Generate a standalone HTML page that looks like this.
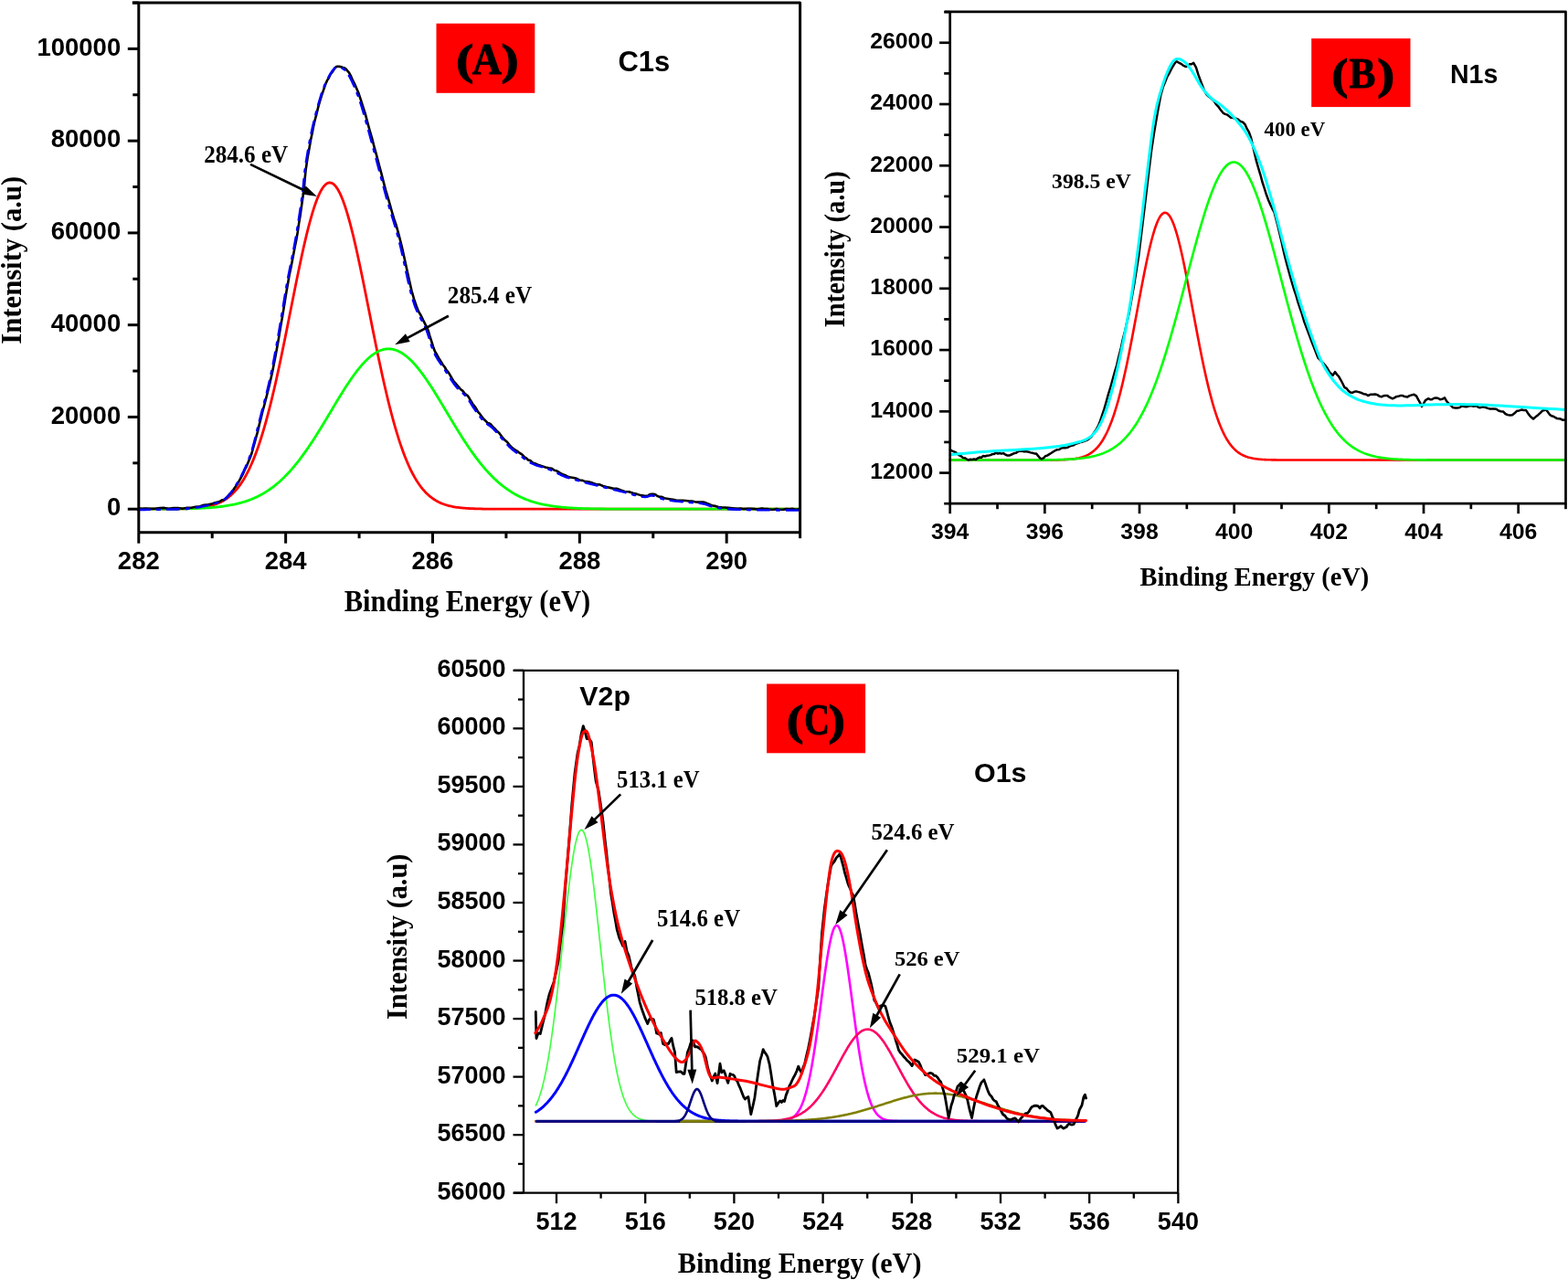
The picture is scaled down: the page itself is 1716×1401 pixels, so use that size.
<!DOCTYPE html>
<html><head><meta charset="utf-8"><title>XPS spectra</title>
<style>
html,body{margin:0;padding:0;background:#fff;}
body{width:1716px;height:1401px;overflow:hidden;}
svg{display:block;}
.sa{font-family:"Liberation Sans",Arial,sans-serif;font-weight:bold;}
</style></head>
<body>
<svg width="1716" height="1401" viewBox="0 0 1716 1401">
<rect width="1716" height="1401" fill="#fff"/>
<polyline points="151.80,557.20 153.25,557.20 154.70,557.20 156.15,557.20 157.60,557.19 159.05,557.19 160.50,557.19 161.95,557.19 163.40,557.19 164.85,557.19 166.31,557.19 167.76,557.18 169.21,557.18 170.66,557.18 172.11,557.18 173.56,557.17 175.01,557.17 176.46,557.16 177.91,557.16 179.36,557.15 180.81,557.14 182.26,557.14 183.71,557.13 185.16,557.11 186.61,557.10 188.06,557.09 189.51,557.07 190.96,557.05 192.41,557.03 193.86,557.01 195.32,556.98 196.77,556.95 198.22,556.92 199.67,556.88 201.12,556.84 202.57,556.79 204.02,556.74 205.47,556.68 206.92,556.61 208.37,556.53 209.82,556.45 211.27,556.35 212.72,556.25 214.17,556.13 215.62,556.00 217.07,555.86 218.52,555.70 219.97,555.52 221.42,555.33 222.87,555.12 224.33,554.88 225.78,554.62 227.23,554.33 228.68,554.02 230.13,553.67 231.58,553.29 233.03,552.88 234.48,552.43 235.93,551.93 237.38,551.39 238.83,550.81 240.28,550.17 241.73,549.48 243.18,548.73 244.63,547.91 246.08,547.03 247.53,546.08 248.98,545.06 250.43,543.95 251.88,542.76 253.34,541.49 254.79,540.11 256.24,538.64 257.69,537.07 259.14,535.39 260.59,533.59 262.04,531.67 263.49,529.64 264.94,527.47 266.39,525.16 267.84,522.72 269.29,520.14 270.74,517.40 272.19,514.51 273.64,511.47 275.09,508.26 276.54,504.89 277.99,501.35 279.44,497.63 280.89,493.74 282.35,489.68 283.80,485.43 285.25,481.01 286.70,476.40 288.15,471.62 289.60,466.65 291.05,461.50 292.50,456.18 293.95,450.68 295.40,445.01 296.85,439.17 298.30,433.17 299.75,427.01 301.20,420.70 302.65,414.25 304.10,407.66 305.55,400.94 307.00,394.11 308.45,387.18 309.90,380.15 311.36,373.04 312.81,365.86 314.26,358.63 315.71,351.35 317.16,344.06 318.61,336.75 320.06,329.46 321.51,322.19 322.96,314.96 324.41,307.80 325.86,300.71 327.31,293.72 328.76,286.85 330.21,280.12 331.66,273.54 333.11,267.13 334.56,260.92 336.01,254.92 337.46,249.14 338.91,243.61 340.37,238.35 341.82,233.36 343.27,228.67 344.72,224.29 346.17,220.24 347.62,216.52 349.07,213.15 350.52,210.15 351.97,207.51 353.42,205.26 354.87,203.39 356.32,201.92 357.77,200.85 359.22,200.18 360.67,199.91 362.12,200.05 363.57,200.59 365.02,201.54 366.47,202.89 367.92,204.64 369.38,206.77 370.83,209.29 372.28,212.18 373.73,215.44 375.18,219.04 376.63,223.00 378.08,227.28 379.53,231.87 380.98,236.77 382.43,241.95 383.88,247.39 385.33,253.09 386.78,259.03 388.23,265.18 389.68,271.53 391.13,278.06 392.58,284.74 394.03,291.57 395.48,298.53 396.93,305.58 398.39,312.73 399.84,319.93 401.29,327.19 402.74,334.48 404.19,341.79 405.64,349.09 407.09,356.37 408.54,363.61 409.99,370.81 411.44,377.94 412.89,385.00 414.34,391.97 415.79,398.83 417.24,405.58 418.69,412.21 420.14,418.71 421.59,425.06 423.04,431.27 424.49,437.32 425.94,443.21 427.40,448.93 428.85,454.49 430.30,459.87 431.75,465.07 433.20,470.09 434.65,474.93 436.10,479.60 437.55,484.08 439.00,488.38 440.45,492.50 441.90,496.44 443.35,500.21 444.80,503.80 446.25,507.23 447.70,510.49 449.15,513.58 450.60,516.52 452.05,519.30 453.50,521.93 454.95,524.42 456.41,526.77 457.86,528.97 459.31,531.05 460.76,533.01 462.21,534.84 463.66,536.56 465.11,538.17 466.56,539.67 468.01,541.07 469.46,542.38 470.91,543.59 472.36,544.72 473.81,545.77 475.26,546.75 476.71,547.65 478.16,548.48 479.61,549.25 481.06,549.96 482.51,550.61 483.96,551.22 485.42,551.77 486.87,552.28 488.32,552.74 489.77,553.17 491.22,553.56 492.67,553.91 494.12,554.24 495.57,554.53 497.02,554.80 498.47,555.04 499.92,555.27 501.37,555.47 502.82,555.65 504.27,555.81 505.72,555.96 507.17,556.09 508.62,556.21 510.07,556.32 511.52,556.42 512.97,556.51 514.43,556.58 515.88,556.65 517.33,556.72 518.78,556.77 520.23,556.82 521.68,556.87 523.13,556.91 524.58,556.94 526.03,556.97 527.48,557.00 528.93,557.03 530.38,557.05 531.83,557.07 533.28,557.08 534.73,557.10 536.18,557.11 537.63,557.12 539.08,557.13 540.53,557.14 541.98,557.15 543.44,557.16 544.89,557.16 546.34,557.17 547.79,557.17 549.24,557.18 550.69,557.18 552.14,557.18 553.59,557.18 555.04,557.19 556.49,557.19 557.94,557.19 559.39,557.19 560.84,557.19 562.29,557.19 563.74,557.19 565.19,557.20 566.64,557.20 568.09,557.20 569.54,557.20 570.99,557.20 572.45,557.20 573.90,557.20 575.35,557.20 576.80,557.20 578.25,557.20 579.70,557.20 581.15,557.20 582.60,557.20 584.05,557.20 585.50,557.20 586.95,557.20 588.40,557.20 589.85,557.20 591.30,557.20 592.75,557.20 594.20,557.20 595.65,557.20 597.10,557.20 598.55,557.20 600.00,557.20 601.46,557.20 602.91,557.20 604.36,557.20 605.81,557.20 607.26,557.20 608.71,557.20 610.16,557.20 611.61,557.20 613.06,557.20 614.51,557.20 615.96,557.20 617.41,557.20 618.86,557.20 620.31,557.20 621.76,557.20 623.21,557.20 624.66,557.20 626.11,557.20 627.56,557.20 629.01,557.20 630.47,557.20 631.92,557.20 633.37,557.20 634.82,557.20 636.27,557.20 637.72,557.20 639.17,557.20 640.62,557.20 642.07,557.20 643.52,557.20 644.97,557.20 646.42,557.20 647.87,557.20 649.32,557.20 650.77,557.20 652.22,557.20 653.67,557.20 655.12,557.20 656.57,557.20 658.02,557.20 659.48,557.20 660.93,557.20 662.38,557.20 663.83,557.20 665.28,557.20 666.73,557.20 668.18,557.20 669.63,557.20 671.08,557.20 672.53,557.20 673.98,557.20 675.43,557.20 676.88,557.20 678.33,557.20 679.78,557.20 681.23,557.20 682.68,557.20 684.13,557.20 685.58,557.20 687.03,557.20 688.49,557.20 689.94,557.20 691.39,557.20 692.84,557.20 694.29,557.20 695.74,557.20 697.19,557.20 698.64,557.20 700.09,557.20 701.54,557.20 702.99,557.20 704.44,557.20 705.89,557.20 707.34,557.20 708.79,557.20 710.24,557.20 711.69,557.20 713.14,557.20 714.59,557.20 716.04,557.20 717.50,557.20 718.95,557.20 720.40,557.20 721.85,557.20 723.30,557.20 724.75,557.20 726.20,557.20 727.65,557.20 729.10,557.20 730.55,557.20 732.00,557.20 733.45,557.20 734.90,557.20 736.35,557.20 737.80,557.20 739.25,557.20 740.70,557.20 742.15,557.20 743.60,557.20 745.05,557.20 746.51,557.20 747.96,557.20 749.41,557.20 750.86,557.20 752.31,557.20 753.76,557.20 755.21,557.20 756.66,557.20 758.11,557.20 759.56,557.20 761.01,557.20 762.46,557.20 763.91,557.20 765.36,557.20 766.81,557.20 768.26,557.20 769.71,557.20 771.16,557.20 772.61,557.20 774.06,557.20 775.52,557.20 776.97,557.20 778.42,557.20 779.87,557.20 781.32,557.20 782.77,557.20 784.22,557.20 785.67,557.20 787.12,557.20 788.57,557.20 790.02,557.20 791.47,557.20 792.92,557.20 794.37,557.20 795.82,557.20 797.27,557.20 798.72,557.20 800.17,557.20 801.62,557.20 803.07,557.20 804.53,557.20 805.98,557.20 807.43,557.20 808.88,557.20 810.33,557.20 811.78,557.20 813.23,557.20 814.68,557.20 816.13,557.20 817.58,557.20 819.03,557.20 820.48,557.20 821.93,557.20 823.38,557.20 824.83,557.20 826.28,557.20 827.73,557.20 829.18,557.20 830.63,557.20 832.08,557.20 833.54,557.20 834.99,557.20 836.44,557.20 837.89,557.20 839.34,557.20 840.79,557.20 842.24,557.20 843.69,557.20 845.14,557.20 846.59,557.20 848.04,557.20 849.49,557.20 850.94,557.20 852.39,557.20 853.84,557.20 855.29,557.20 856.74,557.20 858.19,557.20 859.64,557.20 861.09,557.20 862.55,557.20 864.00,557.20 865.45,557.20 866.90,557.20 868.35,557.20 869.80,557.20 871.25,557.20 872.70,557.20 874.15,557.20 875.60,557.20" fill="none" stroke="#FF0000" stroke-width="2.8" stroke-linejoin="round" stroke-linecap="round"/>
<polyline points="151.80,557.18 153.25,557.18 154.70,557.18 156.15,557.18 157.60,557.18 159.05,557.17 160.50,557.17 161.95,557.17 163.40,557.16 164.85,557.16 166.31,557.16 167.76,557.15 169.21,557.15 170.66,557.14 172.11,557.14 173.56,557.13 175.01,557.13 176.46,557.12 177.91,557.11 179.36,557.10 180.81,557.09 182.26,557.08 183.71,557.07 185.16,557.06 186.61,557.05 188.06,557.04 189.51,557.02 190.96,557.00 192.41,556.99 193.86,556.97 195.32,556.95 196.77,556.93 198.22,556.90 199.67,556.88 201.12,556.85 202.57,556.82 204.02,556.79 205.47,556.76 206.92,556.72 208.37,556.68 209.82,556.64 211.27,556.60 212.72,556.55 214.17,556.50 215.62,556.44 217.07,556.38 218.52,556.32 219.97,556.25 221.42,556.18 222.87,556.10 224.33,556.02 225.78,555.93 227.23,555.84 228.68,555.74 230.13,555.63 231.58,555.52 233.03,555.40 234.48,555.27 235.93,555.13 237.38,554.99 238.83,554.83 240.28,554.67 241.73,554.50 243.18,554.31 244.63,554.12 246.08,553.91 247.53,553.70 248.98,553.47 250.43,553.22 251.88,552.97 253.34,552.70 254.79,552.41 256.24,552.11 257.69,551.79 259.14,551.46 260.59,551.10 262.04,550.73 263.49,550.35 264.94,549.94 266.39,549.51 267.84,549.06 269.29,548.59 270.74,548.09 272.19,547.57 273.64,547.03 275.09,546.47 276.54,545.87 277.99,545.26 279.44,544.61 280.89,543.94 282.35,543.23 283.80,542.50 285.25,541.74 286.70,540.94 288.15,540.12 289.60,539.26 291.05,538.37 292.50,537.44 293.95,536.48 295.40,535.49 296.85,534.46 298.30,533.39 299.75,532.28 301.20,531.14 302.65,529.96 304.10,528.74 305.55,527.48 307.00,526.18 308.45,524.84 309.90,523.47 311.36,522.05 312.81,520.59 314.26,519.09 315.71,517.55 317.16,515.97 318.61,514.34 320.06,512.68 321.51,510.98 322.96,509.23 324.41,507.45 325.86,505.63 327.31,503.77 328.76,501.87 330.21,499.93 331.66,497.95 333.11,495.94 334.56,493.90 336.01,491.82 337.46,489.70 338.91,487.56 340.37,485.38 341.82,483.18 343.27,480.94 344.72,478.68 346.17,476.40 347.62,474.09 349.07,471.76 350.52,469.41 351.97,467.05 353.42,464.67 354.87,462.27 356.32,459.87 357.77,457.45 359.22,455.03 360.67,452.60 362.12,450.17 363.57,447.75 365.02,445.32 366.47,442.90 367.92,440.50 369.38,438.10 370.83,435.71 372.28,433.35 373.73,431.00 375.18,428.67 376.63,426.37 378.08,424.10 379.53,421.86 380.98,419.66 382.43,417.49 383.88,415.36 385.33,413.27 386.78,411.23 388.23,409.24 389.68,407.30 391.13,405.41 392.58,403.57 394.03,401.80 395.48,400.09 396.93,398.44 398.39,396.86 399.84,395.35 401.29,393.91 402.74,392.54 404.19,391.24 405.64,390.03 407.09,388.89 408.54,387.83 409.99,386.86 411.44,385.96 412.89,385.16 414.34,384.44 415.79,383.80 417.24,383.26 418.69,382.81 420.14,382.44 421.59,382.17 423.04,381.98 424.49,381.89 425.94,381.89 427.40,381.98 428.85,382.16 430.30,382.43 431.75,382.80 433.20,383.25 434.65,383.79 436.10,384.42 437.55,385.14 439.00,385.95 440.45,386.83 441.90,387.81 443.35,388.86 444.80,390.00 446.25,391.21 447.70,392.51 449.15,393.87 450.60,395.31 452.05,396.83 453.50,398.41 454.95,400.05 456.41,401.76 457.86,403.53 459.31,405.37 460.76,407.25 462.21,409.19 463.66,411.19 465.11,413.23 466.56,415.31 468.01,417.44 469.46,419.61 470.91,421.81 472.36,424.05 473.81,426.32 475.26,428.62 476.71,430.95 478.16,433.29 479.61,435.66 481.06,438.04 482.51,440.44 483.96,442.85 485.42,445.27 486.87,447.69 488.32,450.12 489.77,452.55 491.22,454.97 492.67,457.40 494.12,459.81 495.57,462.22 497.02,464.61 498.47,467.00 499.92,469.36 501.37,471.71 502.82,474.04 504.27,476.35 505.72,478.63 507.17,480.89 508.62,483.13 510.07,485.33 511.52,487.51 512.97,489.66 514.43,491.77 515.88,493.85 517.33,495.90 518.78,497.91 520.23,499.89 521.68,501.82 523.13,503.72 524.58,505.59 526.03,507.41 527.48,509.19 528.93,510.94 530.38,512.64 531.83,514.31 533.28,515.93 534.73,517.51 536.18,519.05 537.63,520.56 539.08,522.02 540.53,523.44 541.98,524.81 543.44,526.15 544.89,527.45 546.34,528.71 547.79,529.93 549.24,531.11 550.69,532.26 552.14,533.36 553.59,534.43 555.04,535.47 556.49,536.46 557.94,537.42 559.39,538.35 560.84,539.24 562.29,540.10 563.74,540.93 565.19,541.72 566.64,542.48 568.09,543.22 569.54,543.92 570.99,544.59 572.45,545.24 573.90,545.86 575.35,546.45 576.80,547.02 578.25,547.56 579.70,548.08 581.15,548.58 582.60,549.05 584.05,549.50 585.50,549.93 586.95,550.34 588.40,550.73 589.85,551.10 591.30,551.45 592.75,551.78 594.20,552.10 595.65,552.40 597.10,552.69 598.55,552.96 600.00,553.22 601.46,553.46 602.91,553.69 604.36,553.91 605.81,554.12 607.26,554.31 608.71,554.49 610.16,554.67 611.61,554.83 613.06,554.98 614.51,555.13 615.96,555.27 617.41,555.40 618.86,555.52 620.31,555.63 621.76,555.74 623.21,555.84 624.66,555.93 626.11,556.02 627.56,556.10 629.01,556.18 630.47,556.25 631.92,556.32 633.37,556.38 634.82,556.44 636.27,556.50 637.72,556.55 639.17,556.60 640.62,556.64 642.07,556.68 643.52,556.72 644.97,556.76 646.42,556.79 647.87,556.82 649.32,556.85 650.77,556.88 652.22,556.90 653.67,556.93 655.12,556.95 656.57,556.97 658.02,556.99 659.48,557.00 660.93,557.02 662.38,557.03 663.83,557.05 665.28,557.06 666.73,557.07 668.18,557.08 669.63,557.09 671.08,557.10 672.53,557.11 673.98,557.12 675.43,557.12 676.88,557.13 678.33,557.14 679.78,557.14 681.23,557.15 682.68,557.15 684.13,557.16 685.58,557.16 687.03,557.16 688.49,557.17 689.94,557.17 691.39,557.17 692.84,557.18 694.29,557.18 695.74,557.18 697.19,557.18 698.64,557.18 700.09,557.18 701.54,557.19 702.99,557.19 704.44,557.19 705.89,557.19 707.34,557.19 708.79,557.19 710.24,557.19 711.69,557.19 713.14,557.19 714.59,557.19 716.04,557.20 717.50,557.20 718.95,557.20 720.40,557.20 721.85,557.20 723.30,557.20 724.75,557.20 726.20,557.20 727.65,557.20 729.10,557.20 730.55,557.20 732.00,557.20 733.45,557.20 734.90,557.20 736.35,557.20 737.80,557.20 739.25,557.20 740.70,557.20 742.15,557.20 743.60,557.20 745.05,557.20 746.51,557.20 747.96,557.20 749.41,557.20 750.86,557.20 752.31,557.20 753.76,557.20 755.21,557.20 756.66,557.20 758.11,557.20 759.56,557.20 761.01,557.20 762.46,557.20 763.91,557.20 765.36,557.20 766.81,557.20 768.26,557.20 769.71,557.20 771.16,557.20 772.61,557.20 774.06,557.20 775.52,557.20 776.97,557.20 778.42,557.20 779.87,557.20 781.32,557.20 782.77,557.20 784.22,557.20 785.67,557.20 787.12,557.20 788.57,557.20 790.02,557.20 791.47,557.20 792.92,557.20 794.37,557.20 795.82,557.20 797.27,557.20 798.72,557.20 800.17,557.20 801.62,557.20 803.07,557.20 804.53,557.20 805.98,557.20 807.43,557.20 808.88,557.20 810.33,557.20 811.78,557.20 813.23,557.20 814.68,557.20 816.13,557.20 817.58,557.20 819.03,557.20 820.48,557.20 821.93,557.20 823.38,557.20 824.83,557.20 826.28,557.20 827.73,557.20 829.18,557.20 830.63,557.20 832.08,557.20 833.54,557.20 834.99,557.20 836.44,557.20 837.89,557.20 839.34,557.20 840.79,557.20 842.24,557.20 843.69,557.20 845.14,557.20 846.59,557.20 848.04,557.20 849.49,557.20 850.94,557.20 852.39,557.20 853.84,557.20 855.29,557.20 856.74,557.20 858.19,557.20 859.64,557.20 861.09,557.20 862.55,557.20 864.00,557.20 865.45,557.20 866.90,557.20 868.35,557.20 869.80,557.20 871.25,557.20 872.70,557.20 874.15,557.20 875.60,557.20" fill="none" stroke="#00FF00" stroke-width="2.8" stroke-linejoin="round" stroke-linecap="round"/>
<polyline points="152.00,556.49 155.03,556.83 159.21,556.60 164.16,556.84 169.53,556.82 174.93,556.08 180.00,555.92 184.86,556.82 189.83,556.06 194.83,555.94 199.81,556.69 204.69,555.79 209.40,555.80 214.06,554.76 218.74,554.19 223.32,552.73 227.69,552.36 231.72,551.64 235.30,550.23 238.31,549.62 240.81,548.79 242.98,547.28 244.99,547.12 247.00,545.54 249.20,543.26 251.57,540.40 253.99,538.39 256.41,534.53 258.80,531.14 261.15,527.45 263.40,523.26 265.58,519.41 267.70,514.52 269.77,510.55 271.79,505.43 273.73,501.07 275.60,495.75 277.36,489.26 278.99,483.47 280.56,477.47 282.12,472.03 283.71,464.85 285.40,458.35 287.21,451.00 289.10,444.03 291.04,436.46 292.96,428.83 294.83,421.43 296.60,413.70 298.25,406.35 299.81,398.30 301.32,390.71 302.80,382.58 304.28,374.50 305.80,365.61 307.34,356.06 308.89,347.54 310.44,338.11 312.00,328.47 313.55,318.72 315.10,309.96 316.67,300.89 318.27,293.48 319.87,285.22 321.44,277.03 322.96,268.92 324.40,261.92 325.79,253.88 327.14,244.39 328.45,236.84 329.68,228.16 330.80,220.06 331.80,213.05 332.59,207.29 333.17,201.80 333.64,195.60 334.12,191.18 334.71,185.18 335.50,180.16 336.49,173.31 337.59,167.28 338.79,160.49 340.09,152.91 341.50,146.50 343.00,138.77 344.64,131.47 346.43,124.82 348.32,116.87 350.27,110.06 352.21,103.81 354.10,98.33 355.99,92.79 357.94,88.16 359.88,85.18 361.77,81.07 363.56,78.92 365.20,76.48 366.63,74.13 367.87,73.17 369.01,72.72 370.13,72.74 371.30,72.83 372.60,73.07 374.00,73.43 375.42,74.19 376.90,74.31 378.46,75.32 380.11,77.40 381.90,79.39 383.83,82.82 385.89,87.65 388.06,91.75 390.30,97.06 392.59,102.31 394.90,109.30 397.26,116.82 399.70,124.34 402.18,133.86 404.69,143.05 407.21,151.65 409.70,161.45 412.20,170.45 414.72,180.20 417.25,189.40 419.76,199.33 422.21,208.58 424.60,216.43 426.87,224.35 429.05,232.24 431.18,239.44 433.31,245.57 435.50,253.38 437.80,262.11 440.24,271.92 442.78,283.44 445.38,295.43 448.00,307.35 450.58,318.52 453.10,327.36 455.61,334.73 458.15,341.15 460.67,345.24 463.09,350.32 465.36,354.79 467.40,358.77 469.11,363.32 470.53,368.49 471.79,372.12 473.03,376.21 474.39,380.53 476.00,384.74 477.91,387.77 480.00,391.62 482.22,395.08 484.47,399.01 486.69,401.77 488.80,405.43 490.79,407.70 492.73,410.94 494.64,414.25 496.52,417.34 498.40,419.47 500.30,421.67 502.24,423.76 504.22,426.21 506.20,427.60 508.13,430.09 509.98,431.90 511.70,433.02 513.24,435.15 514.61,437.83 515.91,439.71 517.19,442.03 518.53,443.63 520.00,445.56 521.62,448.06 523.34,451.10 525.11,452.94 526.92,455.45 528.72,457.79 530.50,459.80 532.18,461.38 533.77,463.19 535.36,463.32 537.03,464.26 538.89,466.80 541.00,468.66 543.49,471.43 546.30,473.97 549.29,478.09 552.31,481.59 555.19,484.01 557.80,487.39 560.09,489.69 562.18,491.30 564.14,492.69 566.05,493.85 567.98,495.32 570.00,496.67 572.02,498.05 573.95,500.24 575.90,501.41 577.97,503.53 580.27,504.06 582.90,506.48 586.00,507.55 589.53,509.08 593.29,510.25 597.07,511.43 600.67,512.21 603.90,512.72 606.67,514.79 609.11,515.31 611.38,516.67 613.62,518.28 615.98,519.25 618.60,520.20 621.51,521.85 624.59,522.43 627.79,523.04 631.04,523.84 634.30,525.46 637.50,525.87 640.60,527.09 643.65,527.38 646.69,527.99 649.80,529.18 653.01,530.33 656.40,530.41 659.97,532.03 663.68,533.10 667.51,533.88 671.42,534.84 675.39,534.83 679.40,536.55 683.64,537.93 688.18,538.19 692.78,539.71 697.21,540.87 701.23,542.12 704.60,542.61 707.15,542.81 709.03,542.91 710.51,541.51 711.83,541.07 713.28,540.83 715.10,540.85 717.23,541.23 719.46,543.04 721.79,543.78 724.28,543.80 726.94,545.19 729.80,545.68 732.96,546.22 736.41,546.74 740.04,547.51 743.73,547.81 747.35,547.89 750.80,548.03 754.08,548.49 757.30,548.47 760.46,549.19 763.56,549.61 766.61,549.51 769.60,549.60 772.39,550.34 774.96,551.36 777.47,552.50 780.10,553.58 783.02,553.90 786.40,555.06 789.95,555.36 793.48,555.56 797.30,555.85 801.73,556.30 807.09,556.81 810.39,556.59 813.70,557.03 818.15,556.85 822.60,556.69 826.31,557.08 830.02,557.32 833.74,556.62 836.75,557.07 839.77,557.09 842.79,557.66 845.81,557.76 849.70,557.10 853.60,557.75 857.50,557.65 860.83,557.03 864.16,557.29 867.50,556.90 871.00,557.75 874.50,557.40" fill="none" stroke="#000" stroke-width="2.6" stroke-linejoin="round" stroke-linecap="round"/>
<polyline points="150.90,557.90 153.93,557.88 158.11,557.85 163.06,557.82 168.43,557.77 173.83,557.70 178.90,557.60 183.76,557.51 188.73,557.44 193.73,557.36 198.71,557.20 203.59,556.93 208.30,556.50 212.96,555.89 217.64,555.13 222.22,554.25 226.59,553.30 230.62,552.30 234.20,551.30 237.21,550.43 239.71,549.69 241.88,548.91 243.89,547.91 245.90,546.53 248.10,544.60 250.47,542.07 252.89,539.06 255.31,535.66 257.70,531.98 260.05,528.09 262.30,524.10 264.48,520.01 266.60,515.75 268.67,511.29 270.69,506.60 272.63,501.64 274.50,496.40 276.26,490.85 277.89,485.01 279.46,478.91 281.02,472.57 282.61,466.03 284.30,459.30 286.11,452.34 288.00,445.12 289.94,437.69 291.86,430.11 293.73,422.43 295.50,414.70 297.15,406.96 298.71,399.18 300.22,391.29 301.70,383.26 303.18,375.01 304.70,366.50 306.24,357.56 307.79,348.21 309.34,338.65 310.90,329.09 312.45,319.74 314.00,310.80 315.57,302.33 317.17,294.18 318.77,286.23 320.34,278.39 321.86,270.55 323.30,262.60 324.69,254.40 326.04,245.99 327.35,237.57 328.58,229.37 329.70,221.58 330.70,214.40 331.49,208.06 332.07,202.45 332.54,197.24 333.02,192.14 333.61,186.83 334.40,181.00 335.39,174.62 336.49,167.92 337.69,161.01 338.99,154.00 340.40,147.00 341.90,140.10 343.54,133.08 345.33,125.80 347.22,118.53 349.17,111.52 351.11,105.02 353.00,99.30 354.89,94.30 356.84,89.81 358.78,85.84 360.67,82.39 362.46,79.47 364.10,77.10 365.53,75.38 366.77,74.32 367.91,73.79 369.03,73.67 370.20,73.82 371.50,74.10 372.90,74.39 374.32,74.76 375.80,75.41 377.36,76.50 379.01,78.24 380.80,80.80 382.73,84.16 384.79,88.17 386.96,92.83 389.20,98.10 391.49,104.00 393.80,110.50 396.16,117.82 398.60,126.01 401.08,134.82 403.59,144.00 406.11,153.27 408.60,162.40 411.10,171.59 413.62,181.08 416.15,190.68 418.66,200.19 421.11,209.39 423.50,218.10 425.77,225.98 427.95,233.13 430.07,239.98 432.21,246.97 434.40,254.53 436.70,263.10 439.14,273.24 441.68,284.71 444.28,296.75 446.90,308.60 449.48,319.51 452.00,328.70 454.51,335.98 457.05,341.92 459.57,346.91 461.99,351.34 464.26,355.60 466.30,360.10 468.01,364.75 469.43,369.22 470.69,373.53 471.93,377.69 473.29,381.71 474.90,385.60 476.81,389.35 478.90,392.93 481.12,396.38 483.37,399.71 485.59,402.94 487.70,406.10 489.69,409.20 491.63,412.23 493.54,415.17 495.42,417.98 497.30,420.63 499.20,423.10 501.14,425.31 503.12,427.27 505.10,429.08 507.03,430.82 508.88,432.60 510.60,434.50 512.14,436.52 513.51,438.56 514.81,440.64 516.09,442.76 517.43,444.91 518.90,447.10 520.52,449.41 522.24,451.84 524.01,454.32 525.82,456.73 527.62,458.99 529.40,461.00 531.08,462.58 532.67,463.79 534.26,464.84 535.93,465.96 537.79,467.37 539.90,469.30 542.39,471.94 545.20,475.15 548.19,478.65 551.21,482.17 554.09,485.45 556.70,488.20 558.99,490.38 561.08,492.20 563.04,493.77 564.95,495.20 566.88,496.61 568.90,498.10 570.92,499.67 572.85,501.23 574.80,502.76 576.87,504.26 579.17,505.71 581.80,507.10 584.90,508.42 588.43,509.67 592.19,510.88 595.97,512.05 599.57,513.22 602.80,514.40 605.57,515.60 608.01,516.81 610.28,518.01 612.52,519.18 614.88,520.32 617.50,521.40 620.41,522.42 623.49,523.40 626.69,524.33 629.94,525.24 633.20,526.12 636.40,527.00 639.50,527.85 642.55,528.66 645.59,529.45 648.70,530.24 651.91,531.05 655.30,531.90 658.87,532.78 662.58,533.69 666.41,534.61 670.32,535.56 674.29,536.52 678.30,537.50 682.54,538.60 687.08,539.83 691.68,541.09 696.11,542.24 700.13,543.19 703.50,543.80 706.05,543.94 707.93,543.68 709.41,543.21 710.73,542.71 712.18,542.38 714.00,542.40 716.13,542.84 718.36,543.57 720.69,544.46 723.18,545.40 725.84,546.29 728.70,547.00 731.86,547.55 735.31,548.02 738.94,548.43 742.63,548.80 746.25,549.15 749.70,549.50 752.98,549.80 756.20,550.02 759.36,550.22 762.46,550.45 765.51,550.76 768.50,551.20 771.29,551.83 773.86,552.61 776.37,553.48 779.00,554.34 781.92,555.14 785.30,555.80 788.85,556.31 792.38,556.74 796.20,557.10 800.63,557.40 805.99,557.67 812.60,557.90 821.50,558.09 832.64,558.23 844.71,558.33 856.40,558.40 866.40,558.45 873.40,558.50" fill="none" stroke="#0000FF" stroke-width="2.6" stroke-linejoin="round" stroke-linecap="round" stroke-dasharray="13 8 3 8" stroke-linecap="butt"/>
<path d="M151.8,582.7 V3.1 M144.8,3.1 H875.6 V582.7 H151.8" fill="none" stroke="#000" stroke-width="3" stroke-linejoin="round"/>
<line x1="139.80" y1="557.20" x2="151.80" y2="557.20" stroke="#000" stroke-width="3" stroke-linecap="butt"/>
<line x1="145.30" y1="506.82" x2="151.80" y2="506.82" stroke="#000" stroke-width="3" stroke-linecap="butt"/>
<line x1="139.80" y1="456.44" x2="151.80" y2="456.44" stroke="#000" stroke-width="3" stroke-linecap="butt"/>
<line x1="145.30" y1="406.06" x2="151.80" y2="406.06" stroke="#000" stroke-width="3" stroke-linecap="butt"/>
<line x1="139.80" y1="355.68" x2="151.80" y2="355.68" stroke="#000" stroke-width="3" stroke-linecap="butt"/>
<line x1="145.30" y1="305.30" x2="151.80" y2="305.30" stroke="#000" stroke-width="3" stroke-linecap="butt"/>
<line x1="139.80" y1="254.92" x2="151.80" y2="254.92" stroke="#000" stroke-width="3" stroke-linecap="butt"/>
<line x1="145.30" y1="204.54" x2="151.80" y2="204.54" stroke="#000" stroke-width="3" stroke-linecap="butt"/>
<line x1="139.80" y1="154.16" x2="151.80" y2="154.16" stroke="#000" stroke-width="3" stroke-linecap="butt"/>
<line x1="145.30" y1="103.78" x2="151.80" y2="103.78" stroke="#000" stroke-width="3" stroke-linecap="butt"/>
<line x1="139.80" y1="53.40" x2="151.80" y2="53.40" stroke="#000" stroke-width="3" stroke-linecap="butt"/>
<line x1="145.30" y1="3.02" x2="151.80" y2="3.02" stroke="#000" stroke-width="3" stroke-linecap="butt"/>
<line x1="151.80" y1="582.70" x2="151.80" y2="594.70" stroke="#000" stroke-width="3" stroke-linecap="butt"/>
<line x1="232.22" y1="582.70" x2="232.22" y2="589.20" stroke="#000" stroke-width="3" stroke-linecap="butt"/>
<line x1="312.64" y1="582.70" x2="312.64" y2="594.70" stroke="#000" stroke-width="3" stroke-linecap="butt"/>
<line x1="393.07" y1="582.70" x2="393.07" y2="589.20" stroke="#000" stroke-width="3" stroke-linecap="butt"/>
<line x1="473.49" y1="582.70" x2="473.49" y2="594.70" stroke="#000" stroke-width="3" stroke-linecap="butt"/>
<line x1="553.91" y1="582.70" x2="553.91" y2="589.20" stroke="#000" stroke-width="3" stroke-linecap="butt"/>
<line x1="634.33" y1="582.70" x2="634.33" y2="594.70" stroke="#000" stroke-width="3" stroke-linecap="butt"/>
<line x1="714.76" y1="582.70" x2="714.76" y2="589.20" stroke="#000" stroke-width="3" stroke-linecap="butt"/>
<line x1="795.18" y1="582.70" x2="795.18" y2="594.70" stroke="#000" stroke-width="3" stroke-linecap="butt"/>
<line x1="875.60" y1="582.70" x2="875.60" y2="589.20" stroke="#000" stroke-width="3" stroke-linecap="butt"/>
<text x="132.20" y="564.30" text-anchor="end" class="sa" font-size="27.5">0</text>
<text x="132.20" y="463.54" text-anchor="end" class="sa" font-size="27.5">20000</text>
<text x="132.20" y="362.78" text-anchor="end" class="sa" font-size="27.5">40000</text>
<text x="132.20" y="262.02" text-anchor="end" class="sa" font-size="27.5">60000</text>
<text x="132.20" y="161.26" text-anchor="end" class="sa" font-size="27.5">80000</text>
<text x="132.20" y="60.50" text-anchor="end" class="sa" font-size="27.5">100000</text>
<text x="151.80" y="623.4" text-anchor="middle" class="sa" font-size="27.5">282</text>
<text x="312.64" y="623.4" text-anchor="middle" class="sa" font-size="27.5">284</text>
<text x="473.49" y="623.4" text-anchor="middle" class="sa" font-size="27.5">286</text>
<text x="634.33" y="623.4" text-anchor="middle" class="sa" font-size="27.5">288</text>
<text x="795.18" y="623.4" text-anchor="middle" class="sa" font-size="27.5">290</text>
<text x="376.71" y="669.00" font-family='"Liberation Serif", serif' font-weight="bold" font-size="32.70" textLength="269.47" lengthAdjust="spacingAndGlyphs" fill="#000">Binding Energy (eV)</text>
<text transform="translate(22.90,376.64) rotate(-90)" x="0" y="0" font-family='"Liberation Serif", serif' font-weight="bold" font-size="32.60" textLength="183.94" lengthAdjust="spacingAndGlyphs">Intensity (a.u)</text>
<text x="223.15" y="177.60" font-family='"Liberation Serif", serif' font-weight="bold" font-size="27.48" textLength="92.06" lengthAdjust="spacingAndGlyphs" fill="#000">284.6 eV</text>
<text x="489.84" y="332.10" font-family='"Liberation Serif", serif' font-weight="bold" font-size="26.58" textLength="92.26" lengthAdjust="spacingAndGlyphs" fill="#000">285.4 eV</text>
<line x1="274.00" y1="179.90" x2="334.29" y2="208.93" stroke="#000" stroke-width="2.7" stroke-linecap="butt"/>
<polygon points="346.90,215.00 330.31,212.56 334.65,203.55" fill="#000"/>
<line x1="490.90" y1="345.70" x2="444.53" y2="370.66" stroke="#000" stroke-width="2.7" stroke-linecap="butt"/>
<polygon points="432.20,377.30 443.92,365.31 448.66,374.12" fill="#000"/>
<rect x="477.5" y="25.7" width="107.8" height="76.1" fill="#FF0000"/>
<text transform="translate(499.48,81.34) scale(1.1605,1)" font-family='"Liberation Serif", serif' font-weight="bold" font-size="47.46" stroke="#000" stroke-width="1.6">(</text>
<text transform="translate(516.85,81.20) scale(0.9375,1)" font-family='"Liberation Serif", serif' font-weight="bold" font-size="47.58" stroke="#000" stroke-width="1.0">A</text>
<text transform="translate(549.04,81.34) scale(1.1597,1)" font-family='"Liberation Serif", serif' font-weight="bold" font-size="47.46" stroke="#000" stroke-width="1.6">)</text>
<text x="676.40" y="77.90" font-family='"Liberation Sans", sans-serif' font-weight="bold" font-size="30.95" textLength="56.75" lengthAdjust="spacingAndGlyphs" fill="#000">C1s</text>
<polyline points="1039.70,503.51 1040.82,503.51 1041.95,503.51 1043.07,503.51 1044.20,503.51 1045.32,503.51 1046.45,503.51 1047.57,503.51 1048.70,503.51 1049.82,503.51 1050.95,503.51 1052.07,503.51 1053.20,503.51 1054.32,503.51 1055.45,503.51 1056.57,503.51 1057.70,503.51 1058.82,503.51 1059.95,503.51 1061.07,503.51 1062.20,503.51 1063.32,503.51 1064.45,503.51 1065.57,503.51 1066.70,503.51 1067.82,503.51 1068.95,503.51 1070.07,503.51 1071.20,503.51 1072.32,503.51 1073.45,503.51 1074.57,503.51 1075.70,503.51 1076.82,503.51 1077.95,503.51 1079.07,503.51 1080.20,503.51 1081.32,503.51 1082.45,503.51 1083.57,503.51 1084.69,503.51 1085.82,503.51 1086.94,503.51 1088.07,503.51 1089.19,503.51 1090.32,503.51 1091.44,503.51 1092.57,503.51 1093.69,503.51 1094.82,503.51 1095.94,503.51 1097.07,503.51 1098.19,503.51 1099.32,503.51 1100.44,503.51 1101.57,503.51 1102.69,503.51 1103.82,503.51 1104.94,503.51 1106.07,503.51 1107.19,503.51 1108.32,503.51 1109.44,503.51 1110.57,503.51 1111.69,503.51 1112.82,503.51 1113.94,503.51 1115.07,503.51 1116.19,503.51 1117.32,503.51 1118.44,503.51 1119.57,503.51 1120.69,503.51 1121.82,503.51 1122.94,503.51 1124.07,503.51 1125.19,503.51 1126.32,503.51 1127.44,503.51 1128.57,503.51 1129.69,503.51 1130.81,503.51 1131.94,503.51 1133.06,503.51 1134.19,503.51 1135.31,503.51 1136.44,503.51 1137.56,503.50 1138.69,503.50 1139.81,503.50 1140.94,503.50 1142.06,503.50 1143.19,503.49 1144.31,503.49 1145.44,503.48 1146.56,503.48 1147.69,503.47 1148.81,503.47 1149.94,503.46 1151.06,503.45 1152.19,503.44 1153.31,503.43 1154.44,503.41 1155.56,503.40 1156.69,503.38 1157.81,503.36 1158.94,503.33 1160.06,503.30 1161.19,503.27 1162.31,503.24 1163.44,503.20 1164.56,503.15 1165.69,503.10 1166.81,503.04 1167.94,502.97 1169.06,502.90 1170.19,502.81 1171.31,502.72 1172.44,502.61 1173.56,502.49 1174.68,502.36 1175.81,502.21 1176.93,502.04 1178.06,501.85 1179.18,501.65 1180.31,501.42 1181.43,501.16 1182.56,500.88 1183.68,500.57 1184.81,500.22 1185.93,499.84 1187.06,499.42 1188.18,498.96 1189.31,498.46 1190.43,497.91 1191.56,497.30 1192.68,496.64 1193.81,495.92 1194.93,495.13 1196.06,494.28 1197.18,493.35 1198.31,492.35 1199.43,491.27 1200.56,490.09 1201.68,488.83 1202.81,487.46 1203.93,486.00 1205.06,484.43 1206.18,482.74 1207.31,480.94 1208.43,479.01 1209.56,476.96 1210.68,474.77 1211.81,472.45 1212.93,469.98 1214.06,467.37 1215.18,464.61 1216.31,461.70 1217.43,458.62 1218.56,455.39 1219.68,452.00 1220.80,448.44 1221.93,444.72 1223.05,440.83 1224.18,436.78 1225.30,432.56 1226.43,428.18 1227.55,423.64 1228.68,418.94 1229.80,414.08 1230.93,409.08 1232.05,403.93 1233.18,398.65 1234.30,393.24 1235.43,387.71 1236.55,382.06 1237.68,376.32 1238.80,370.49 1239.93,364.58 1241.05,358.61 1242.18,352.58 1243.30,346.53 1244.43,340.45 1245.55,334.37 1246.68,328.31 1247.80,322.27 1248.93,316.29 1250.05,310.37 1251.18,304.54 1252.30,298.81 1253.43,293.21 1254.55,287.75 1255.68,282.45 1256.80,277.33 1257.93,272.41 1259.05,267.71 1260.18,263.24 1261.30,259.02 1262.43,255.07 1263.55,251.40 1264.67,248.03 1265.80,244.97 1266.92,242.23 1268.05,239.82 1269.17,237.75 1270.30,236.04 1271.42,234.68 1272.55,233.69 1273.67,233.06 1274.80,232.81 1275.92,232.92 1277.05,233.41 1278.17,234.26 1279.30,235.48 1280.42,237.06 1281.55,239.00 1282.67,241.28 1283.80,243.89 1284.92,246.83 1286.05,250.09 1287.17,253.65 1288.30,257.50 1289.42,261.61 1290.55,265.99 1291.67,270.61 1292.80,275.45 1293.92,280.49 1295.05,285.72 1296.17,291.13 1297.30,296.68 1298.42,302.36 1299.55,308.15 1300.67,314.04 1301.80,320.00 1302.92,326.02 1304.05,332.07 1305.17,338.15 1306.30,344.23 1307.42,350.30 1308.55,356.33 1309.67,362.33 1310.79,368.26 1311.92,374.12 1313.04,379.90 1314.17,385.58 1315.29,391.16 1316.42,396.62 1317.54,401.95 1318.67,407.15 1319.79,412.21 1320.92,417.12 1322.04,421.87 1323.17,426.48 1324.29,430.92 1325.42,435.20 1326.54,439.32 1327.67,443.27 1328.79,447.05 1329.92,450.67 1331.04,454.13 1332.17,457.42 1333.29,460.55 1334.42,463.53 1335.54,466.35 1336.67,469.01 1337.79,471.53 1338.92,473.91 1340.04,476.15 1341.17,478.25 1342.29,480.23 1343.42,482.07 1344.54,483.80 1345.67,485.42 1346.79,486.92 1347.92,488.32 1349.04,489.62 1350.17,490.83 1351.29,491.95 1352.42,492.98 1353.54,493.94 1354.66,494.82 1355.79,495.63 1356.91,496.37 1358.04,497.06 1359.16,497.68 1360.29,498.25 1361.41,498.78 1362.54,499.25 1363.66,499.69 1364.79,500.08 1365.91,500.44 1367.04,500.76 1368.16,501.06 1369.29,501.32 1370.41,501.56 1371.54,501.78 1372.66,501.97 1373.79,502.15 1374.91,502.30 1376.04,502.44 1377.16,502.57 1378.29,502.68 1379.41,502.78 1380.54,502.87 1381.66,502.94 1382.79,503.01 1383.91,503.08 1385.04,503.13 1386.16,503.18 1387.29,503.22 1388.41,503.26 1389.54,503.29 1390.66,503.32 1391.79,503.35 1392.91,503.37 1394.04,503.39 1395.16,503.41 1396.29,503.42 1397.41,503.43 1398.54,503.44 1399.66,503.45 1400.78,503.46 1401.91,503.47 1403.03,503.48 1404.16,503.48 1405.28,503.49 1406.41,503.49 1407.53,503.49 1408.66,503.50 1409.78,503.50 1410.91,503.50 1412.03,503.50 1413.16,503.51 1414.28,503.51 1415.41,503.51 1416.53,503.51 1417.66,503.51 1418.78,503.51 1419.91,503.51 1421.03,503.51 1422.16,503.51 1423.28,503.51 1424.41,503.51 1425.53,503.51 1426.66,503.51 1427.78,503.51 1428.91,503.51 1430.03,503.51 1431.16,503.51 1432.28,503.51 1433.41,503.51 1434.53,503.51 1435.66,503.51 1436.78,503.51 1437.91,503.51 1439.03,503.51 1440.16,503.51 1441.28,503.51 1442.41,503.51 1443.53,503.51 1444.65,503.51 1445.78,503.51 1446.90,503.51 1448.03,503.51 1449.15,503.51 1450.28,503.51 1451.40,503.51 1452.53,503.51 1453.65,503.51 1454.78,503.51 1455.90,503.51 1457.03,503.51 1458.15,503.51 1459.28,503.51 1460.40,503.51 1461.53,503.51 1462.65,503.51 1463.78,503.51 1464.90,503.51 1466.03,503.51 1467.15,503.51 1468.28,503.51 1469.40,503.51 1470.53,503.51 1471.65,503.51 1472.78,503.51 1473.90,503.51 1475.03,503.51 1476.15,503.51 1477.28,503.51 1478.40,503.51 1479.53,503.51 1480.65,503.51 1481.78,503.51 1482.90,503.51 1484.03,503.51 1485.15,503.51 1486.28,503.51 1487.40,503.51 1488.53,503.51 1489.65,503.51 1490.77,503.51 1491.90,503.51 1493.02,503.51 1494.15,503.51 1495.27,503.51 1496.40,503.51 1497.52,503.51 1498.65,503.51 1499.77,503.51 1500.90,503.51 1502.02,503.51 1503.15,503.51 1504.27,503.51 1505.40,503.51 1506.52,503.51 1507.65,503.51 1508.77,503.51 1509.90,503.51 1511.02,503.51 1512.15,503.51 1513.27,503.51 1514.40,503.51 1515.52,503.51 1516.65,503.51 1517.77,503.51 1518.90,503.51 1520.02,503.51 1521.15,503.51 1522.27,503.51 1523.40,503.51 1524.52,503.51 1525.65,503.51 1526.77,503.51 1527.90,503.51 1529.02,503.51 1530.15,503.51 1531.27,503.51 1532.40,503.51 1533.52,503.51 1534.64,503.51 1535.77,503.51 1536.89,503.51 1538.02,503.51 1539.14,503.51 1540.27,503.51 1541.39,503.51 1542.52,503.51 1543.64,503.51 1544.77,503.51 1545.89,503.51 1547.02,503.51 1548.14,503.51 1549.27,503.51 1550.39,503.51 1551.52,503.51 1552.64,503.51 1553.77,503.51 1554.89,503.51 1556.02,503.51 1557.14,503.51 1558.27,503.51 1559.39,503.51 1560.52,503.51 1561.64,503.51 1562.77,503.51 1563.89,503.51 1565.02,503.51 1566.14,503.51 1567.27,503.51 1568.39,503.51 1569.52,503.51 1570.64,503.51 1571.77,503.51 1572.89,503.51 1574.02,503.51 1575.14,503.51 1576.27,503.51 1577.39,503.51 1578.52,503.51 1579.64,503.51 1580.76,503.51 1581.89,503.51 1583.01,503.51 1584.14,503.51 1585.26,503.51 1586.39,503.51 1587.51,503.51 1588.64,503.51 1589.76,503.51 1590.89,503.51 1592.01,503.51 1593.14,503.51 1594.26,503.51 1595.39,503.51 1596.51,503.51 1597.64,503.51 1598.76,503.51 1599.89,503.51 1601.01,503.51 1602.14,503.51 1603.26,503.51 1604.39,503.51 1605.51,503.51 1606.64,503.51 1607.76,503.51 1608.89,503.51 1610.01,503.51 1611.14,503.51 1612.26,503.51 1613.39,503.51 1614.51,503.51 1615.64,503.51 1616.76,503.51 1617.89,503.51 1619.01,503.51 1620.14,503.51 1621.26,503.51 1622.39,503.51 1623.51,503.51 1624.63,503.51 1625.76,503.51 1626.88,503.51 1628.01,503.51 1629.13,503.51 1630.26,503.51 1631.38,503.51 1632.51,503.51 1633.63,503.51 1634.76,503.51 1635.88,503.51 1637.01,503.51 1638.13,503.51 1639.26,503.51 1640.38,503.51 1641.51,503.51 1642.63,503.51 1643.76,503.51 1644.88,503.51 1646.01,503.51 1647.13,503.51 1648.26,503.51 1649.38,503.51 1650.51,503.51 1651.63,503.51 1652.76,503.51 1653.88,503.51 1655.01,503.51 1656.13,503.51 1657.26,503.51 1658.38,503.51 1659.51,503.51 1660.63,503.51 1661.76,503.51 1662.88,503.51 1664.01,503.51 1665.13,503.51 1666.26,503.51 1667.38,503.51 1668.51,503.51 1669.63,503.51 1670.75,503.51 1671.88,503.51 1673.00,503.51 1674.13,503.51 1675.25,503.51 1676.38,503.51 1677.50,503.51 1678.63,503.51 1679.75,503.51 1680.88,503.51 1682.00,503.51 1683.13,503.51 1684.25,503.51 1685.38,503.51 1686.50,503.51 1687.63,503.51 1688.75,503.51 1689.88,503.51 1691.00,503.51 1692.13,503.51 1693.25,503.51 1694.38,503.51 1695.50,503.51 1696.63,503.51 1697.75,503.51 1698.88,503.51 1700.00,503.51 1701.13,503.51 1702.25,503.51 1703.38,503.51 1704.50,503.51 1705.63,503.51 1706.75,503.51 1707.88,503.51 1709.00,503.51 1710.13,503.51 1711.25,503.51 1712.38,503.51 1713.50,503.51" fill="none" stroke="#FF0000" stroke-width="2.6" stroke-linejoin="round" stroke-linecap="round"/>
<polyline points="1039.70,503.51 1040.82,503.51 1041.95,503.51 1043.07,503.51 1044.20,503.51 1045.32,503.51 1046.45,503.51 1047.57,503.51 1048.70,503.51 1049.82,503.51 1050.95,503.51 1052.07,503.51 1053.20,503.51 1054.32,503.51 1055.45,503.51 1056.57,503.51 1057.70,503.51 1058.82,503.51 1059.95,503.51 1061.07,503.51 1062.20,503.51 1063.32,503.51 1064.45,503.51 1065.57,503.51 1066.70,503.51 1067.82,503.51 1068.95,503.51 1070.07,503.51 1071.20,503.51 1072.32,503.51 1073.45,503.51 1074.57,503.51 1075.70,503.51 1076.82,503.51 1077.95,503.51 1079.07,503.51 1080.20,503.51 1081.32,503.51 1082.45,503.51 1083.57,503.51 1084.69,503.51 1085.82,503.51 1086.94,503.51 1088.07,503.51 1089.19,503.51 1090.32,503.51 1091.44,503.51 1092.57,503.51 1093.69,503.51 1094.82,503.51 1095.94,503.51 1097.07,503.51 1098.19,503.51 1099.32,503.51 1100.44,503.51 1101.57,503.51 1102.69,503.51 1103.82,503.51 1104.94,503.51 1106.07,503.51 1107.19,503.51 1108.32,503.51 1109.44,503.51 1110.57,503.51 1111.69,503.51 1112.82,503.50 1113.94,503.50 1115.07,503.50 1116.19,503.50 1117.32,503.50 1118.44,503.50 1119.57,503.50 1120.69,503.50 1121.82,503.49 1122.94,503.49 1124.07,503.49 1125.19,503.49 1126.32,503.48 1127.44,503.48 1128.57,503.48 1129.69,503.47 1130.81,503.47 1131.94,503.47 1133.06,503.46 1134.19,503.46 1135.31,503.45 1136.44,503.45 1137.56,503.44 1138.69,503.43 1139.81,503.42 1140.94,503.42 1142.06,503.41 1143.19,503.40 1144.31,503.39 1145.44,503.38 1146.56,503.36 1147.69,503.35 1148.81,503.34 1149.94,503.32 1151.06,503.30 1152.19,503.29 1153.31,503.27 1154.44,503.24 1155.56,503.22 1156.69,503.20 1157.81,503.17 1158.94,503.14 1160.06,503.11 1161.19,503.08 1162.31,503.04 1163.44,503.00 1164.56,502.96 1165.69,502.92 1166.81,502.87 1167.94,502.82 1169.06,502.77 1170.19,502.71 1171.31,502.65 1172.44,502.58 1173.56,502.51 1174.68,502.43 1175.81,502.35 1176.93,502.26 1178.06,502.17 1179.18,502.07 1180.31,501.96 1181.43,501.85 1182.56,501.73 1183.68,501.60 1184.81,501.46 1185.93,501.31 1187.06,501.16 1188.18,500.99 1189.31,500.82 1190.43,500.63 1191.56,500.43 1192.68,500.22 1193.81,500.00 1194.93,499.76 1196.06,499.51 1197.18,499.25 1198.31,498.97 1199.43,498.67 1200.56,498.36 1201.68,498.03 1202.81,497.68 1203.93,497.31 1205.06,496.93 1206.18,496.52 1207.31,496.09 1208.43,495.63 1209.56,495.15 1210.68,494.65 1211.81,494.12 1212.93,493.57 1214.06,492.99 1215.18,492.37 1216.31,491.73 1217.43,491.06 1218.56,490.35 1219.68,489.61 1220.80,488.84 1221.93,488.03 1223.05,487.18 1224.18,486.30 1225.30,485.38 1226.43,484.41 1227.55,483.40 1228.68,482.35 1229.80,481.26 1230.93,480.12 1232.05,478.93 1233.18,477.70 1234.30,476.42 1235.43,475.08 1236.55,473.70 1237.68,472.26 1238.80,470.76 1239.93,469.22 1241.05,467.61 1242.18,465.95 1243.30,464.23 1244.43,462.45 1245.55,460.61 1246.68,458.70 1247.80,456.74 1248.93,454.71 1250.05,452.62 1251.18,450.46 1252.30,448.24 1253.43,445.95 1254.55,443.60 1255.68,441.18 1256.80,438.69 1257.93,436.13 1259.05,433.51 1260.18,430.81 1261.30,428.05 1262.43,425.22 1263.55,422.32 1264.67,419.36 1265.80,416.33 1266.92,413.23 1268.05,410.06 1269.17,406.83 1270.30,403.53 1271.42,400.17 1272.55,396.75 1273.67,393.26 1274.80,389.71 1275.92,386.11 1277.05,382.45 1278.17,378.73 1279.30,374.96 1280.42,371.13 1281.55,367.26 1282.67,363.34 1283.80,359.37 1284.92,355.36 1286.05,351.32 1287.17,347.23 1288.30,343.11 1289.42,338.96 1290.55,334.77 1291.67,330.57 1292.80,326.34 1293.92,322.10 1295.05,317.84 1296.17,313.56 1297.30,309.29 1298.42,305.00 1299.55,300.72 1300.67,296.45 1301.80,292.18 1302.92,287.92 1304.05,283.69 1305.17,279.47 1306.30,275.28 1307.42,271.13 1308.55,267.00 1309.67,262.92 1310.79,258.88 1311.92,254.89 1313.04,250.95 1314.17,247.08 1315.29,243.26 1316.42,239.51 1317.54,235.83 1318.67,232.23 1319.79,228.71 1320.92,225.27 1322.04,221.93 1323.17,218.67 1324.29,215.52 1325.42,212.46 1326.54,209.51 1327.67,206.67 1328.79,203.94 1329.92,201.33 1331.04,198.84 1332.17,196.48 1333.29,194.24 1334.42,192.13 1335.54,190.15 1336.67,188.31 1337.79,186.60 1338.92,185.04 1340.04,183.62 1341.17,182.34 1342.29,181.21 1343.42,180.22 1344.54,179.39 1345.67,178.70 1346.79,178.17 1347.92,177.79 1349.04,177.56 1350.17,177.48 1351.29,177.56 1352.42,177.79 1353.54,178.17 1354.66,178.70 1355.79,179.39 1356.91,180.22 1358.04,181.20 1359.16,182.34 1360.29,183.61 1361.41,185.04 1362.54,186.60 1363.66,188.30 1364.79,190.15 1365.91,192.12 1367.04,194.23 1368.16,196.47 1369.29,198.84 1370.41,201.33 1371.54,203.94 1372.66,206.67 1373.79,209.51 1374.91,212.46 1376.04,215.51 1377.16,218.67 1378.29,221.92 1379.41,225.27 1380.54,228.70 1381.66,232.23 1382.79,235.83 1383.91,239.50 1385.04,243.25 1386.16,247.07 1387.29,250.95 1388.41,254.88 1389.54,258.87 1390.66,262.91 1391.79,267.00 1392.91,271.12 1394.04,275.28 1395.16,279.47 1396.29,283.68 1397.41,287.92 1398.54,292.17 1399.66,296.44 1400.78,300.72 1401.91,305.00 1403.03,309.28 1404.16,313.56 1405.28,317.83 1406.41,322.09 1407.53,326.33 1408.66,330.56 1409.78,334.77 1410.91,338.95 1412.03,343.10 1413.16,347.22 1414.28,351.31 1415.41,355.36 1416.53,359.37 1417.66,363.33 1418.78,367.25 1419.91,371.13 1421.03,374.95 1422.16,378.72 1423.28,382.44 1424.41,386.10 1425.53,389.71 1426.66,393.25 1427.78,396.74 1428.91,400.16 1430.03,403.52 1431.16,406.82 1432.28,410.05 1433.41,413.22 1434.53,416.32 1435.66,419.35 1436.78,422.32 1437.91,425.22 1439.03,428.05 1440.16,430.81 1441.28,433.50 1442.41,436.13 1443.53,438.68 1444.65,441.17 1445.78,443.60 1446.90,445.95 1448.03,448.24 1449.15,450.46 1450.28,452.62 1451.40,454.71 1452.53,456.74 1453.65,458.70 1454.78,460.60 1455.90,462.44 1457.03,464.23 1458.15,465.95 1459.28,467.61 1460.40,469.21 1461.53,470.76 1462.65,472.25 1463.78,473.69 1464.90,475.08 1466.03,476.41 1467.15,477.70 1468.28,478.93 1469.40,480.12 1470.53,481.26 1471.65,482.35 1472.78,483.40 1473.90,484.41 1475.03,485.37 1476.15,486.30 1477.28,487.18 1478.40,488.03 1479.53,488.84 1480.65,489.61 1481.78,490.35 1482.90,491.06 1484.03,491.73 1485.15,492.37 1486.28,492.98 1487.40,493.57 1488.53,494.12 1489.65,494.65 1490.77,495.15 1491.90,495.63 1493.02,496.09 1494.15,496.52 1495.27,496.93 1496.40,497.31 1497.52,497.68 1498.65,498.03 1499.77,498.36 1500.90,498.67 1502.02,498.97 1503.15,499.25 1504.27,499.51 1505.40,499.76 1506.52,500.00 1507.65,500.22 1508.77,500.43 1509.90,500.63 1511.02,500.82 1512.15,500.99 1513.27,501.16 1514.40,501.31 1515.52,501.46 1516.65,501.60 1517.77,501.73 1518.90,501.85 1520.02,501.96 1521.15,502.07 1522.27,502.17 1523.40,502.26 1524.52,502.35 1525.65,502.43 1526.77,502.51 1527.90,502.58 1529.02,502.65 1530.15,502.71 1531.27,502.77 1532.40,502.82 1533.52,502.87 1534.64,502.92 1535.77,502.96 1536.89,503.00 1538.02,503.04 1539.14,503.08 1540.27,503.11 1541.39,503.14 1542.52,503.17 1543.64,503.20 1544.77,503.22 1545.89,503.24 1547.02,503.27 1548.14,503.29 1549.27,503.30 1550.39,503.32 1551.52,503.34 1552.64,503.35 1553.77,503.36 1554.89,503.38 1556.02,503.39 1557.14,503.40 1558.27,503.41 1559.39,503.42 1560.52,503.42 1561.64,503.43 1562.77,503.44 1563.89,503.45 1565.02,503.45 1566.14,503.46 1567.27,503.46 1568.39,503.47 1569.52,503.47 1570.64,503.47 1571.77,503.48 1572.89,503.48 1574.02,503.48 1575.14,503.49 1576.27,503.49 1577.39,503.49 1578.52,503.49 1579.64,503.50 1580.76,503.50 1581.89,503.50 1583.01,503.50 1584.14,503.50 1585.26,503.50 1586.39,503.50 1587.51,503.50 1588.64,503.51 1589.76,503.51 1590.89,503.51 1592.01,503.51 1593.14,503.51 1594.26,503.51 1595.39,503.51 1596.51,503.51 1597.64,503.51 1598.76,503.51 1599.89,503.51 1601.01,503.51 1602.14,503.51 1603.26,503.51 1604.39,503.51 1605.51,503.51 1606.64,503.51 1607.76,503.51 1608.89,503.51 1610.01,503.51 1611.14,503.51 1612.26,503.51 1613.39,503.51 1614.51,503.51 1615.64,503.51 1616.76,503.51 1617.89,503.51 1619.01,503.51 1620.14,503.51 1621.26,503.51 1622.39,503.51 1623.51,503.51 1624.63,503.51 1625.76,503.51 1626.88,503.51 1628.01,503.51 1629.13,503.51 1630.26,503.51 1631.38,503.51 1632.51,503.51 1633.63,503.51 1634.76,503.51 1635.88,503.51 1637.01,503.51 1638.13,503.51 1639.26,503.51 1640.38,503.51 1641.51,503.51 1642.63,503.51 1643.76,503.51 1644.88,503.51 1646.01,503.51 1647.13,503.51 1648.26,503.51 1649.38,503.51 1650.51,503.51 1651.63,503.51 1652.76,503.51 1653.88,503.51 1655.01,503.51 1656.13,503.51 1657.26,503.51 1658.38,503.51 1659.51,503.51 1660.63,503.51 1661.76,503.51 1662.88,503.51 1664.01,503.51 1665.13,503.51 1666.26,503.51 1667.38,503.51 1668.51,503.51 1669.63,503.51 1670.75,503.51 1671.88,503.51 1673.00,503.51 1674.13,503.51 1675.25,503.51 1676.38,503.51 1677.50,503.51 1678.63,503.51 1679.75,503.51 1680.88,503.51 1682.00,503.51 1683.13,503.51 1684.25,503.51 1685.38,503.51 1686.50,503.51 1687.63,503.51 1688.75,503.51 1689.88,503.51 1691.00,503.51 1692.13,503.51 1693.25,503.51 1694.38,503.51 1695.50,503.51 1696.63,503.51 1697.75,503.51 1698.88,503.51 1700.00,503.51 1701.13,503.51 1702.25,503.51 1703.38,503.51 1704.50,503.51 1705.63,503.51 1706.75,503.51 1707.88,503.51 1709.00,503.51 1710.13,503.51 1711.25,503.51 1712.38,503.51 1713.50,503.51" fill="none" stroke="#00FF00" stroke-width="2.6" stroke-linejoin="round" stroke-linecap="round"/>
<polyline points="1040.00,492.23 1042.00,493.54 1044.00,494.41 1046.00,495.23 1048.00,496.99 1050.00,498.42 1052.00,499.44 1054.00,501.12 1056.00,501.31 1058.00,502.50 1060.00,503.55 1062.00,502.70 1064.00,502.93 1066.00,502.44 1068.00,503.03 1070.00,501.55 1072.00,500.50 1074.00,500.81 1076.00,498.97 1078.00,499.48 1080.00,498.74 1082.00,498.47 1084.00,498.13 1086.00,497.11 1088.00,496.92 1090.00,495.68 1092.00,496.54 1094.00,496.02 1096.00,496.63 1098.00,496.12 1100.00,497.35 1102.50,498.61 1105.00,498.39 1107.50,497.25 1110.00,496.09 1112.00,495.79 1114.00,494.31 1116.00,493.55 1118.00,493.65 1120.00,494.16 1122.00,494.35 1124.00,494.35 1126.00,494.81 1128.00,495.36 1130.00,495.79 1132.00,496.39 1134.00,496.42 1136.00,498.83 1138.00,501.33 1140.00,502.38 1142.00,501.47 1144.00,499.27 1146.00,498.64 1148.00,497.36 1150.25,495.99 1152.50,494.52 1154.75,493.23 1157.00,492.20 1159.25,492.06 1161.50,490.51 1163.75,489.93 1166.00,490.35 1168.25,489.83 1170.50,488.52 1172.75,487.67 1175.00,487.31 1177.38,485.71 1179.75,484.97 1182.12,484.03 1184.50,483.72 1187.25,482.54 1190.00,481.63 1192.17,479.93 1194.33,477.97 1196.50,474.71 1199.25,470.79 1202.00,465.88 1204.17,460.40 1206.33,453.92 1208.50,447.37 1210.67,439.74 1212.83,431.90 1215.00,424.97 1217.40,416.40 1219.80,407.67 1222.20,399.50 1224.47,389.88 1226.73,380.95 1229.00,370.50 1231.30,361.85 1233.60,351.30 1235.90,341.64 1238.45,326.71 1241.00,312.47 1243.60,296.35 1246.20,279.88 1248.60,259.87 1251.00,240.31 1253.75,217.60 1256.50,194.06 1260.00,165.33 1263.30,143.44 1267.00,121.95 1270.20,104.72 1273.00,94.63 1275.00,90.05 1277.00,84.75 1279.50,80.39 1282.00,75.50 1284.65,70.84 1287.30,66.97 1289.65,68.36 1292.00,69.56 1294.80,71.54 1297.60,73.00 1299.80,72.06 1302.00,70.16 1304.10,70.31 1306.20,68.84 1309.00,73.89 1311.30,81.42 1315.00,91.42 1318.10,99.43 1320.55,103.47 1323.00,105.71 1325.70,107.90 1328.40,110.31 1330.70,113.85 1333.00,116.31 1335.85,120.22 1338.70,123.81 1340.85,124.93 1343.00,125.59 1345.00,127.12 1347.00,128.64 1349.00,128.85 1351.00,129.73 1353.00,129.80 1355.00,130.68 1357.57,132.86 1360.13,133.72 1362.70,136.44 1364.80,141.17 1366.90,144.74 1369.00,150.62 1371.10,159.82 1375.00,176.38 1377.17,184.03 1379.33,191.05 1381.50,199.25 1383.67,205.88 1385.83,212.76 1388.00,218.67 1390.17,223.69 1392.33,228.31 1394.50,232.24 1396.50,240.05 1398.50,247.46 1400.50,255.99 1402.50,264.46 1404.50,273.64 1406.50,282.25 1409.40,293.09 1412.30,303.55 1414.37,310.87 1416.43,317.52 1418.50,323.55 1420.50,330.88 1422.50,336.88 1424.50,342.47 1427.40,352.35 1430.30,360.00 1433.15,367.51 1436.00,375.31 1438.13,380.60 1440.27,386.01 1442.40,391.61 1444.93,394.21 1447.47,396.87 1450.00,399.55 1452.50,402.90 1455.00,407.30 1458.50,410.96 1461.00,407.06 1463.00,409.84 1465.00,411.80 1467.13,415.51 1469.27,419.50 1471.40,424.02 1473.53,424.99 1475.67,427.77 1477.80,429.55 1479.93,429.84 1482.07,428.83 1484.20,428.37 1487.10,429.16 1490.00,430.06 1492.37,431.21 1494.73,431.46 1497.10,432.99 1499.73,431.79 1502.37,431.85 1505.00,431.44 1507.33,432.12 1509.67,433.72 1512.00,434.32 1514.00,433.23 1516.00,432.90 1518.00,432.88 1520.00,434.34 1522.00,435.44 1524.00,436.35 1526.00,435.46 1528.00,434.17 1530.00,433.86 1532.50,433.07 1535.00,433.04 1537.50,434.10 1540.00,434.58 1542.50,433.15 1545.00,432.39 1547.50,431.84 1550.00,433.42 1552.00,437.05 1554.00,440.63 1556.00,444.84 1558.00,441.57 1560.00,438.12 1563.00,436.19 1565.00,437.17 1567.00,437.26 1569.50,435.72 1572.00,435.50 1574.00,435.98 1576.00,437.14 1578.50,436.82 1581.00,435.30 1583.00,438.88 1585.00,441.23 1587.50,443.49 1590.00,446.03 1592.50,446.44 1595.00,446.57 1597.50,446.04 1600.00,444.35 1602.50,445.00 1605.00,445.20 1607.50,444.42 1610.00,444.09 1612.00,444.64 1614.00,444.55 1616.00,444.16 1618.00,445.74 1620.00,446.17 1622.50,445.37 1625.00,445.80 1627.50,446.63 1630.00,447.41 1632.50,447.55 1635.00,447.60 1637.50,447.75 1640.00,449.52 1642.50,450.27 1645.00,450.49 1647.50,453.00 1650.00,454.14 1652.50,454.60 1655.00,454.30 1657.50,452.34 1660.00,449.78 1662.50,449.43 1665.00,448.60 1667.50,449.01 1670.00,448.91 1672.50,452.86 1675.00,455.98 1678.00,458.45 1680.50,456.36 1683.00,454.41 1685.50,452.08 1688.00,449.53 1690.00,449.00 1692.00,448.28 1694.00,451.05 1696.00,453.89 1698.00,455.21 1700.00,455.73 1702.00,456.95 1704.00,458.03 1706.00,458.20 1708.00,458.55 1710.50,459.81 1713.00,459.50" fill="none" stroke="#000" stroke-width="2.5" stroke-linejoin="round" stroke-linecap="round"/>
<polyline points="1040.00,497.70 1044.12,497.32 1049.63,496.80 1056.25,496.18 1063.70,495.51 1071.71,494.84 1080.00,494.20 1089.14,493.61 1099.47,493.03 1110.36,492.45 1121.16,491.84 1131.26,491.20 1140.00,490.50 1147.36,489.77 1153.85,489.03 1159.62,488.26 1164.84,487.41 1169.68,486.47 1174.30,485.40 1178.59,484.33 1182.41,483.30 1185.84,482.17 1188.98,480.81 1191.94,479.07 1194.80,476.80 1197.48,474.17 1199.87,471.33 1202.07,468.11 1204.19,464.34 1206.30,459.86 1208.50,454.50 1210.78,448.24 1213.07,441.20 1215.35,433.44 1217.63,425.05 1219.92,416.08 1222.20,406.60 1224.52,396.40 1226.89,385.39 1229.26,373.80 1231.59,361.88 1233.81,349.86 1235.90,338.00 1237.83,326.21 1239.65,314.28 1241.37,302.26 1243.02,290.19 1244.62,278.12 1246.20,266.10 1247.73,254.04 1249.20,241.88 1250.61,229.73 1252.00,217.66 1253.39,205.79 1254.80,194.20 1256.22,182.60 1257.64,170.86 1259.05,159.30 1260.46,148.27 1261.88,138.09 1263.30,129.10 1264.73,121.46 1266.16,114.94 1267.59,109.27 1269.03,104.20 1270.47,99.47 1271.90,94.80 1273.35,90.22 1274.83,85.94 1276.31,81.99 1277.77,78.41 1279.17,75.24 1280.50,72.50 1281.72,70.24 1282.83,68.44 1283.90,67.04 1284.97,65.99 1286.08,65.22 1287.30,64.70 1288.63,64.45 1290.04,64.54 1291.49,64.92 1292.97,65.55 1294.45,66.39 1295.90,67.40 1297.30,68.60 1298.67,70.02 1300.04,71.65 1301.44,73.48 1302.88,75.50 1304.40,77.70 1306.01,80.22 1307.70,83.09 1309.44,86.14 1311.20,89.23 1312.96,92.17 1314.70,94.80 1316.38,97.11 1318.01,99.24 1319.64,101.22 1321.31,103.11 1323.09,104.96 1325.00,106.80 1327.09,108.58 1329.31,110.23 1331.64,111.84 1334.01,113.48 1336.38,115.21 1338.70,117.10 1340.98,119.13 1343.27,121.23 1345.55,123.42 1347.83,125.73 1350.12,128.18 1352.40,130.80 1354.68,133.50 1356.97,136.24 1359.25,139.12 1361.53,142.25 1363.82,145.71 1366.10,149.60 1368.38,153.89 1370.67,158.50 1372.95,163.44 1375.23,168.74 1377.52,174.42 1379.80,180.50 1382.08,187.05 1384.37,194.07 1386.65,201.47 1388.93,209.15 1391.22,217.03 1393.50,225.00 1395.78,233.21 1398.07,241.75 1400.35,250.49 1402.63,259.27 1404.92,267.96 1407.20,276.40 1409.48,284.66 1411.77,292.87 1414.05,300.99 1416.33,308.96 1418.62,316.74 1420.90,324.30 1423.18,331.64 1425.47,338.79 1427.75,345.76 1430.03,352.53 1432.32,359.12 1434.60,365.50 1436.84,371.72 1439.04,377.80 1441.23,383.68 1443.47,389.31 1445.81,394.67 1448.30,399.70 1450.97,404.43 1453.78,408.90 1456.69,413.09 1459.64,416.97 1462.60,420.51 1465.50,423.70 1468.35,426.47 1471.20,428.83 1474.04,430.86 1476.88,432.63 1479.73,434.22 1482.60,435.70 1485.47,437.03 1488.33,438.13 1491.21,439.05 1494.10,439.84 1497.03,440.54 1500.00,441.20 1502.97,441.80 1505.90,442.31 1508.88,442.73 1511.94,443.08 1515.16,443.36 1518.60,443.60 1522.26,443.77 1526.09,443.87 1530.07,443.91 1534.20,443.90 1538.45,443.86 1542.80,443.80 1547.15,443.69 1551.48,443.52 1555.94,443.31 1560.65,443.10 1565.76,442.92 1571.40,442.80 1577.71,442.72 1584.61,442.64 1591.91,442.60 1599.41,442.60 1606.90,442.66 1614.20,442.80 1621.18,443.02 1627.98,443.32 1634.77,443.68 1641.76,444.09 1649.10,444.53 1657.00,445.00 1666.22,445.55 1676.76,446.20 1687.67,446.89 1697.99,447.54 1706.75,448.10 1713.00,448.50" fill="none" stroke="#00FFFF" stroke-width="3.0" stroke-linejoin="round" stroke-linecap="round"/>
<path d="M1039.7,551.2 V12.8 M1033.7,12.8 H1713.5 V551.2 H1039.7" fill="none" stroke="#000" stroke-width="2.7" stroke-linejoin="round"/>
<line x1="1033.20" y1="551.20" x2="1039.70" y2="551.20" stroke="#000" stroke-width="2.7" stroke-linecap="butt"/>
<line x1="1028.10" y1="517.57" x2="1039.70" y2="517.57" stroke="#000" stroke-width="2.7" stroke-linecap="butt"/>
<line x1="1033.20" y1="483.94" x2="1039.70" y2="483.94" stroke="#000" stroke-width="2.7" stroke-linecap="butt"/>
<line x1="1028.10" y1="450.31" x2="1039.70" y2="450.31" stroke="#000" stroke-width="2.7" stroke-linecap="butt"/>
<line x1="1033.20" y1="416.68" x2="1039.70" y2="416.68" stroke="#000" stroke-width="2.7" stroke-linecap="butt"/>
<line x1="1028.10" y1="383.06" x2="1039.70" y2="383.06" stroke="#000" stroke-width="2.7" stroke-linecap="butt"/>
<line x1="1033.20" y1="349.43" x2="1039.70" y2="349.43" stroke="#000" stroke-width="2.7" stroke-linecap="butt"/>
<line x1="1028.10" y1="315.80" x2="1039.70" y2="315.80" stroke="#000" stroke-width="2.7" stroke-linecap="butt"/>
<line x1="1033.20" y1="282.17" x2="1039.70" y2="282.17" stroke="#000" stroke-width="2.7" stroke-linecap="butt"/>
<line x1="1028.10" y1="248.54" x2="1039.70" y2="248.54" stroke="#000" stroke-width="2.7" stroke-linecap="butt"/>
<line x1="1033.20" y1="214.91" x2="1039.70" y2="214.91" stroke="#000" stroke-width="2.7" stroke-linecap="butt"/>
<line x1="1028.10" y1="181.28" x2="1039.70" y2="181.28" stroke="#000" stroke-width="2.7" stroke-linecap="butt"/>
<line x1="1033.20" y1="147.65" x2="1039.70" y2="147.65" stroke="#000" stroke-width="2.7" stroke-linecap="butt"/>
<line x1="1028.10" y1="114.02" x2="1039.70" y2="114.02" stroke="#000" stroke-width="2.7" stroke-linecap="butt"/>
<line x1="1033.20" y1="80.39" x2="1039.70" y2="80.39" stroke="#000" stroke-width="2.7" stroke-linecap="butt"/>
<line x1="1028.10" y1="46.77" x2="1039.70" y2="46.77" stroke="#000" stroke-width="2.7" stroke-linecap="butt"/>
<line x1="1033.20" y1="13.14" x2="1039.70" y2="13.14" stroke="#000" stroke-width="2.7" stroke-linecap="butt"/>
<line x1="1039.70" y1="551.20" x2="1039.70" y2="562.20" stroke="#000" stroke-width="2.7" stroke-linecap="butt"/>
<line x1="1091.53" y1="551.20" x2="1091.53" y2="557.20" stroke="#000" stroke-width="2.7" stroke-linecap="butt"/>
<line x1="1143.36" y1="551.20" x2="1143.36" y2="562.20" stroke="#000" stroke-width="2.7" stroke-linecap="butt"/>
<line x1="1195.19" y1="551.20" x2="1195.19" y2="557.20" stroke="#000" stroke-width="2.7" stroke-linecap="butt"/>
<line x1="1247.02" y1="551.20" x2="1247.02" y2="562.20" stroke="#000" stroke-width="2.7" stroke-linecap="butt"/>
<line x1="1298.85" y1="551.20" x2="1298.85" y2="557.20" stroke="#000" stroke-width="2.7" stroke-linecap="butt"/>
<line x1="1350.68" y1="551.20" x2="1350.68" y2="562.20" stroke="#000" stroke-width="2.7" stroke-linecap="butt"/>
<line x1="1402.52" y1="551.20" x2="1402.52" y2="557.20" stroke="#000" stroke-width="2.7" stroke-linecap="butt"/>
<line x1="1454.35" y1="551.20" x2="1454.35" y2="562.20" stroke="#000" stroke-width="2.7" stroke-linecap="butt"/>
<line x1="1506.18" y1="551.20" x2="1506.18" y2="557.20" stroke="#000" stroke-width="2.7" stroke-linecap="butt"/>
<line x1="1558.01" y1="551.20" x2="1558.01" y2="562.20" stroke="#000" stroke-width="2.7" stroke-linecap="butt"/>
<line x1="1609.84" y1="551.20" x2="1609.84" y2="557.20" stroke="#000" stroke-width="2.7" stroke-linecap="butt"/>
<line x1="1661.67" y1="551.20" x2="1661.67" y2="562.20" stroke="#000" stroke-width="2.7" stroke-linecap="butt"/>
<line x1="1713.50" y1="551.20" x2="1713.50" y2="557.20" stroke="#000" stroke-width="2.7" stroke-linecap="butt"/>
<text x="1021.2" y="523.87" text-anchor="end" class="sa" font-size="24.8">12000</text>
<text x="1021.2" y="456.61" text-anchor="end" class="sa" font-size="24.8">14000</text>
<text x="1021.2" y="389.36" text-anchor="end" class="sa" font-size="24.8">16000</text>
<text x="1021.2" y="322.10" text-anchor="end" class="sa" font-size="24.8">18000</text>
<text x="1021.2" y="254.84" text-anchor="end" class="sa" font-size="24.8">20000</text>
<text x="1021.2" y="187.58" text-anchor="end" class="sa" font-size="24.8">22000</text>
<text x="1021.2" y="120.32" text-anchor="end" class="sa" font-size="24.8">24000</text>
<text x="1021.2" y="53.07" text-anchor="end" class="sa" font-size="24.8">26000</text>
<text x="1039.70" y="589.6" text-anchor="middle" class="sa" font-size="24.8">394</text>
<text x="1143.36" y="589.6" text-anchor="middle" class="sa" font-size="24.8">396</text>
<text x="1247.02" y="589.6" text-anchor="middle" class="sa" font-size="24.8">398</text>
<text x="1350.68" y="589.6" text-anchor="middle" class="sa" font-size="24.8">400</text>
<text x="1454.35" y="589.6" text-anchor="middle" class="sa" font-size="24.8">402</text>
<text x="1558.01" y="589.6" text-anchor="middle" class="sa" font-size="24.8">404</text>
<text x="1661.67" y="589.6" text-anchor="middle" class="sa" font-size="24.8">406</text>
<text x="1247.55" y="641.00" font-family='"Liberation Serif", serif' font-weight="bold" font-size="30.20" textLength="250.65" lengthAdjust="spacingAndGlyphs" fill="#000">Binding Energy (eV)</text>
<text transform="translate(924.00,358.47) rotate(-90)" x="0" y="0" font-family='"Liberation Serif", serif' font-weight="bold" font-size="30.60" textLength="171.18" lengthAdjust="spacingAndGlyphs">Intensity (a.u)</text>
<text x="1151.10" y="206.20" font-family='"Liberation Serif", serif' font-weight="bold" font-size="23.27" textLength="86.78" lengthAdjust="spacingAndGlyphs" fill="#000">398.5 eV</text>
<text x="1383.58" y="149.00" font-family='"Liberation Serif", serif' font-weight="bold" font-size="22.22" textLength="66.69" lengthAdjust="spacingAndGlyphs" fill="#000">400 eV</text>
<rect x="1435.2" y="42.1" width="108.3" height="75" fill="#FF0000"/>
<text transform="translate(1457.65,96.65) scale(1.1012,1)" font-family='"Liberation Serif", serif' font-weight="bold" font-size="46.47" stroke="#000" stroke-width="1.6">(</text>
<text transform="translate(1476.61,96.11) scale(0.9306,1)" font-family='"Liberation Serif", serif' font-weight="bold" font-size="46.49" stroke="#000" stroke-width="1.0">B</text>
<text transform="translate(1507.66,96.65) scale(1.1678,1)" font-family='"Liberation Serif", serif' font-weight="bold" font-size="46.47" stroke="#000" stroke-width="1.6">)</text>
<text x="1587.02" y="91.10" font-family='"Liberation Sans", sans-serif' font-weight="bold" font-size="29.36" textLength="52.34" lengthAdjust="spacingAndGlyphs" fill="#000">N1s</text>
<polyline points="586.40,1209.96 587.26,1208.14 588.12,1206.17 588.98,1204.04 589.84,1201.74 590.70,1199.25 591.56,1196.58 592.42,1193.72 593.28,1190.65 594.14,1187.37 595.00,1183.86 595.86,1180.14 596.72,1176.18 597.58,1171.99 598.44,1167.56 599.30,1162.88 600.16,1157.96 601.02,1152.79 601.88,1147.37 602.74,1141.71 603.60,1135.81 604.45,1129.67 605.31,1123.30 606.17,1116.70 607.03,1109.89 607.89,1102.87 608.75,1095.67 609.61,1088.29 610.47,1080.75 611.33,1073.07 612.19,1065.27 613.05,1057.36 613.91,1049.39 614.77,1041.35 615.63,1033.30 616.49,1025.25 617.35,1017.22 618.21,1009.26 619.07,1001.39 619.93,993.63 620.79,986.04 621.65,978.62 622.51,971.42 623.37,964.48 624.23,957.81 625.09,951.45 625.95,945.42 626.81,939.77 627.67,934.51 628.53,929.68 629.39,925.28 630.25,921.36 631.11,917.92 631.97,914.98 632.83,912.57 633.69,910.68 634.54,909.33 635.40,908.54 636.26,908.29 637.12,908.60 637.98,909.46 638.84,910.86 639.70,912.81 640.56,915.29 641.42,918.28 642.28,921.78 643.14,925.76 644.00,930.20 644.86,935.08 645.72,940.39 646.58,946.08 647.44,952.14 648.30,958.54 649.16,965.24 650.02,972.22 650.88,979.44 651.74,986.88 652.60,994.50 653.46,1002.27 654.32,1010.15 655.18,1018.12 656.04,1026.15 656.90,1034.21 657.76,1042.26 658.62,1050.28 659.48,1058.26 660.34,1066.15 661.20,1073.94 662.06,1081.60 662.92,1089.13 663.78,1096.49 664.63,1103.67 665.49,1110.66 666.35,1117.45 667.21,1124.02 668.07,1130.37 668.93,1136.48 669.79,1142.36 670.65,1147.99 671.51,1153.38 672.37,1158.52 673.23,1163.42 674.09,1168.07 674.95,1172.47 675.81,1176.64 676.67,1180.57 677.53,1184.27 678.39,1187.74 679.25,1191.00 680.11,1194.05 680.97,1196.89 681.83,1199.54 682.69,1202.01 683.55,1204.29 684.41,1206.40 685.27,1208.35 686.13,1210.15 686.99,1211.81 687.85,1213.33 688.71,1214.72 689.57,1215.99 690.43,1217.15 691.29,1218.21 692.15,1219.17 693.01,1220.05 693.87,1220.84 694.72,1221.55 695.58,1222.19 696.44,1222.77 697.30,1223.29 698.16,1223.76 699.02,1224.18 699.88,1224.55 700.74,1224.88 701.60,1225.18 702.46,1225.44 703.32,1225.67 704.18,1225.88 705.04,1226.06 705.90,1226.22 706.76,1226.36 707.62,1226.48 708.48,1226.59 709.34,1226.69 710.20,1226.77 711.06,1226.84 711.92,1226.90 712.78,1226.96 713.64,1227.00 714.50,1227.05 715.36,1227.08 716.22,1227.11 717.08,1227.14 717.94,1227.16 718.80,1227.18 719.66,1227.20 720.52,1227.21 721.38,1227.22 722.24,1227.23 723.10,1227.24 723.95,1227.25 724.81,1227.25 725.67,1227.26 726.53,1227.26 727.39,1227.27 728.25,1227.27 729.11,1227.27 729.97,1227.27 730.83,1227.28 731.69,1227.28 732.55,1227.28 733.41,1227.28 734.27,1227.28 735.13,1227.28 735.99,1227.28 736.85,1227.28 737.71,1227.28 738.57,1227.28 739.43,1227.28 740.29,1227.28 741.15,1227.28 742.01,1227.28 742.87,1227.28 743.73,1227.29 744.59,1227.29 745.45,1227.29 746.31,1227.29 747.17,1227.29 748.03,1227.29 748.89,1227.29 749.75,1227.29 750.61,1227.29 751.47,1227.29 752.33,1227.29 753.19,1227.29 754.04,1227.29 754.90,1227.29 755.76,1227.29 756.62,1227.29 757.48,1227.29 758.34,1227.29 759.20,1227.29 760.06,1227.29 760.92,1227.29 761.78,1227.29 762.64,1227.29 763.50,1227.29 764.36,1227.29 765.22,1227.29 766.08,1227.29 766.94,1227.29 767.80,1227.29 768.66,1227.29 769.52,1227.29 770.38,1227.29 771.24,1227.29 772.10,1227.29 772.96,1227.29 773.82,1227.29 774.68,1227.29 775.54,1227.29 776.40,1227.29 777.26,1227.29 778.12,1227.29 778.98,1227.29 779.84,1227.29 780.70,1227.29 781.56,1227.29 782.42,1227.29 783.28,1227.29 784.13,1227.29 784.99,1227.29 785.85,1227.29 786.71,1227.29 787.57,1227.29 788.43,1227.29 789.29,1227.29 790.15,1227.29 791.01,1227.29 791.87,1227.29 792.73,1227.29 793.59,1227.29 794.45,1227.29 795.31,1227.29 796.17,1227.29 797.03,1227.29 797.89,1227.29 798.75,1227.29 799.61,1227.29 800.47,1227.29 801.33,1227.29 802.19,1227.29 803.05,1227.29 803.91,1227.29 804.77,1227.29 805.63,1227.29 806.49,1227.29 807.35,1227.29 808.21,1227.29 809.07,1227.29 809.93,1227.29 810.79,1227.29 811.65,1227.29 812.51,1227.29 813.37,1227.29 814.22,1227.29 815.08,1227.29 815.94,1227.29 816.80,1227.29 817.66,1227.29 818.52,1227.29 819.38,1227.29 820.24,1227.29 821.10,1227.29 821.96,1227.29 822.82,1227.29 823.68,1227.29 824.54,1227.29 825.40,1227.29 826.26,1227.29 827.12,1227.29 827.98,1227.29 828.84,1227.29 829.70,1227.29 830.56,1227.29 831.42,1227.29 832.28,1227.29 833.14,1227.29 834.00,1227.29 834.86,1227.29 835.72,1227.29 836.58,1227.29 837.44,1227.29 838.30,1227.29 839.16,1227.29 840.02,1227.29 840.88,1227.29 841.74,1227.29 842.60,1227.29 843.46,1227.29 844.31,1227.29 845.17,1227.29 846.03,1227.29 846.89,1227.29 847.75,1227.29 848.61,1227.29 849.47,1227.29 850.33,1227.29 851.19,1227.29 852.05,1227.29 852.91,1227.29 853.77,1227.29 854.63,1227.29 855.49,1227.29 856.35,1227.29 857.21,1227.29 858.07,1227.29 858.93,1227.29 859.79,1227.29 860.65,1227.29 861.51,1227.29 862.37,1227.29 863.23,1227.29 864.09,1227.29 864.95,1227.29 865.81,1227.29 866.67,1227.29 867.53,1227.29 868.39,1227.29 869.25,1227.29 870.11,1227.29 870.97,1227.29 871.83,1227.29 872.69,1227.29 873.54,1227.29 874.40,1227.29 875.26,1227.29 876.12,1227.29 876.98,1227.29 877.84,1227.29 878.70,1227.29 879.56,1227.29 880.42,1227.29 881.28,1227.29 882.14,1227.29 883.00,1227.29 883.86,1227.29 884.72,1227.29 885.58,1227.29 886.44,1227.29 887.30,1227.29 888.16,1227.29 889.02,1227.29 889.88,1227.29 890.74,1227.29 891.60,1227.29 892.46,1227.29 893.32,1227.29 894.18,1227.29 895.04,1227.29 895.90,1227.29 896.76,1227.29 897.62,1227.29 898.48,1227.29 899.34,1227.29 900.20,1227.29 901.06,1227.29 901.92,1227.29 902.78,1227.29 903.63,1227.29 904.49,1227.29 905.35,1227.29 906.21,1227.29 907.07,1227.29 907.93,1227.29 908.79,1227.29 909.65,1227.29 910.51,1227.29 911.37,1227.29 912.23,1227.29 913.09,1227.29 913.95,1227.29 914.81,1227.29 915.67,1227.29 916.53,1227.29 917.39,1227.29 918.25,1227.29 919.11,1227.29 919.97,1227.29 920.83,1227.29 921.69,1227.29 922.55,1227.29 923.41,1227.29 924.27,1227.29 925.13,1227.29 925.99,1227.29 926.85,1227.29 927.71,1227.29 928.57,1227.29 929.43,1227.29 930.29,1227.29 931.15,1227.29 932.01,1227.29 932.87,1227.29 933.72,1227.29 934.58,1227.29 935.44,1227.29 936.30,1227.29 937.16,1227.29 938.02,1227.29 938.88,1227.29 939.74,1227.29 940.60,1227.29 941.46,1227.29 942.32,1227.29 943.18,1227.29 944.04,1227.29 944.90,1227.29 945.76,1227.29 946.62,1227.29 947.48,1227.29 948.34,1227.29 949.20,1227.29 950.06,1227.29 950.92,1227.29 951.78,1227.29 952.64,1227.29 953.50,1227.29 954.36,1227.29 955.22,1227.29 956.08,1227.29 956.94,1227.29 957.80,1227.29 958.66,1227.29 959.52,1227.29 960.38,1227.29 961.24,1227.29 962.10,1227.29 962.96,1227.29 963.81,1227.29 964.67,1227.29 965.53,1227.29 966.39,1227.29 967.25,1227.29 968.11,1227.29 968.97,1227.29 969.83,1227.29 970.69,1227.29 971.55,1227.29 972.41,1227.29 973.27,1227.29 974.13,1227.29 974.99,1227.29 975.85,1227.29 976.71,1227.29 977.57,1227.29 978.43,1227.29 979.29,1227.29 980.15,1227.29 981.01,1227.29 981.87,1227.29 982.73,1227.29 983.59,1227.29 984.45,1227.29 985.31,1227.29 986.17,1227.29 987.03,1227.29 987.89,1227.29 988.75,1227.29 989.61,1227.29 990.47,1227.29 991.33,1227.29 992.19,1227.29 993.04,1227.29 993.90,1227.29 994.76,1227.29 995.62,1227.29 996.48,1227.29 997.34,1227.29 998.20,1227.29 999.06,1227.29 999.92,1227.29 1000.78,1227.29 1001.64,1227.29 1002.50,1227.29 1003.36,1227.29 1004.22,1227.29 1005.08,1227.29 1005.94,1227.29 1006.80,1227.29 1007.66,1227.29 1008.52,1227.29 1009.38,1227.29 1010.24,1227.29 1011.10,1227.29 1011.96,1227.29 1012.82,1227.29 1013.68,1227.29 1014.54,1227.29 1015.40,1227.29 1016.26,1227.29 1017.12,1227.29 1017.98,1227.29 1018.84,1227.29 1019.70,1227.29 1020.56,1227.29 1021.42,1227.29 1022.28,1227.29 1023.13,1227.29 1023.99,1227.29 1024.85,1227.29 1025.71,1227.29 1026.57,1227.29 1027.43,1227.29 1028.29,1227.29 1029.15,1227.29 1030.01,1227.29 1030.87,1227.29 1031.73,1227.29 1032.59,1227.29 1033.45,1227.29 1034.31,1227.29 1035.17,1227.29 1036.03,1227.29 1036.89,1227.29 1037.75,1227.29 1038.61,1227.29 1039.47,1227.29 1040.33,1227.29 1041.19,1227.29 1042.05,1227.29 1042.91,1227.29 1043.77,1227.29 1044.63,1227.29 1045.49,1227.29 1046.35,1227.29 1047.21,1227.29 1048.07,1227.29 1048.93,1227.29 1049.79,1227.29 1050.65,1227.29 1051.51,1227.29 1052.37,1227.29 1053.22,1227.29 1054.08,1227.29 1054.94,1227.29 1055.80,1227.29 1056.66,1227.29 1057.52,1227.29 1058.38,1227.29 1059.24,1227.29 1060.10,1227.29 1060.96,1227.29 1061.82,1227.29 1062.68,1227.29 1063.54,1227.29 1064.40,1227.29 1065.26,1227.29 1066.12,1227.29 1066.98,1227.29 1067.84,1227.29 1068.70,1227.29 1069.56,1227.29 1070.42,1227.29 1071.28,1227.29 1072.14,1227.29 1073.00,1227.29 1073.86,1227.29 1074.72,1227.29 1075.58,1227.29 1076.44,1227.29 1077.30,1227.29 1078.16,1227.29 1079.02,1227.29 1079.88,1227.29 1080.74,1227.29 1081.60,1227.29 1082.46,1227.29 1083.31,1227.29 1084.17,1227.29 1085.03,1227.29 1085.89,1227.29 1086.75,1227.29 1087.61,1227.29 1088.47,1227.29 1089.33,1227.29 1090.19,1227.29 1091.05,1227.29 1091.91,1227.29 1092.77,1227.29 1093.63,1227.29 1094.49,1227.29 1095.35,1227.29 1096.21,1227.29 1097.07,1227.29 1097.93,1227.29 1098.79,1227.29 1099.65,1227.29 1100.51,1227.29 1101.37,1227.29 1102.23,1227.29 1103.09,1227.29 1103.95,1227.29 1104.81,1227.29 1105.67,1227.29 1106.53,1227.29 1107.39,1227.29 1108.25,1227.29 1109.11,1227.29 1109.97,1227.29 1110.83,1227.29 1111.69,1227.29 1112.55,1227.29 1113.40,1227.29 1114.26,1227.29 1115.12,1227.29 1115.98,1227.29 1116.84,1227.29 1117.70,1227.29 1118.56,1227.29 1119.42,1227.29 1120.28,1227.29 1121.14,1227.29 1122.00,1227.29 1122.86,1227.29 1123.72,1227.29 1124.58,1227.29 1125.44,1227.29 1126.30,1227.29 1127.16,1227.29 1128.02,1227.29 1128.88,1227.29 1129.74,1227.29 1130.60,1227.29 1131.46,1227.29 1132.32,1227.29 1133.18,1227.29 1134.04,1227.29 1134.90,1227.29 1135.76,1227.29 1136.62,1227.29 1137.48,1227.29 1138.34,1227.29 1139.20,1227.29 1140.06,1227.29 1140.92,1227.29 1141.78,1227.29 1142.63,1227.29 1143.49,1227.29 1144.35,1227.29 1145.21,1227.29 1146.07,1227.29 1146.93,1227.29 1147.79,1227.29 1148.65,1227.29 1149.51,1227.29 1150.37,1227.29 1151.23,1227.29 1152.09,1227.29 1152.95,1227.29 1153.81,1227.29 1154.67,1227.29 1155.53,1227.29 1156.39,1227.29 1157.25,1227.29 1158.11,1227.29 1158.97,1227.29 1159.83,1227.29 1160.69,1227.29 1161.55,1227.29 1162.41,1227.29 1163.27,1227.29 1164.13,1227.29 1164.99,1227.29 1165.85,1227.29 1166.71,1227.29 1167.57,1227.29 1168.43,1227.29 1169.29,1227.29 1170.15,1227.29 1171.01,1227.29 1171.87,1227.29 1172.72,1227.29 1173.58,1227.29 1174.44,1227.29 1175.30,1227.29 1176.16,1227.29 1177.02,1227.29 1177.88,1227.29 1178.74,1227.29 1179.60,1227.29 1180.46,1227.29 1181.32,1227.29 1182.18,1227.29 1183.04,1227.29 1183.90,1227.29 1184.76,1227.29 1185.62,1227.29 1186.48,1227.29 1187.34,1227.29" fill="none" stroke="#44FF44" stroke-width="1.7" stroke-linejoin="round" stroke-linecap="round"/>
<polyline points="586.40,1217.32 587.26,1216.78 588.12,1216.22 588.98,1215.63 589.84,1215.02 590.70,1214.38 591.56,1213.72 592.42,1213.03 593.28,1212.31 594.14,1211.57 595.00,1210.80 595.86,1210.00 596.72,1209.17 597.58,1208.31 598.44,1207.42 599.30,1206.49 600.16,1205.54 601.02,1204.56 601.88,1203.54 602.74,1202.50 603.60,1201.42 604.45,1200.31 605.31,1199.16 606.17,1197.98 607.03,1196.77 607.89,1195.53 608.75,1194.25 609.61,1192.94 610.47,1191.60 611.33,1190.22 612.19,1188.82 613.05,1187.38 613.91,1185.91 614.77,1184.40 615.63,1182.87 616.49,1181.31 617.35,1179.71 618.21,1178.09 619.07,1176.44 619.93,1174.77 620.79,1173.06 621.65,1171.33 622.51,1169.58 623.37,1167.81 624.23,1166.01 625.09,1164.19 625.95,1162.35 626.81,1160.50 627.67,1158.63 628.53,1156.74 629.39,1154.84 630.25,1152.93 631.11,1151.01 631.97,1149.08 632.83,1147.15 633.69,1145.21 634.54,1143.27 635.40,1141.34 636.26,1139.40 637.12,1137.47 637.98,1135.54 638.84,1133.63 639.70,1131.72 640.56,1129.83 641.42,1127.95 642.28,1126.10 643.14,1124.26 644.00,1122.45 644.86,1120.66 645.72,1118.89 646.58,1117.16 647.44,1115.46 648.30,1113.80 649.16,1112.17 650.02,1110.58 650.88,1109.03 651.74,1107.53 652.60,1106.07 653.46,1104.66 654.32,1103.30 655.18,1101.99 656.04,1100.74 656.90,1099.54 657.76,1098.40 658.62,1097.32 659.48,1096.30 660.34,1095.34 661.20,1094.45 662.06,1093.62 662.92,1092.86 663.78,1092.17 664.63,1091.54 665.49,1090.99 666.35,1090.51 667.21,1090.10 668.07,1089.76 668.93,1089.49 669.79,1089.30 670.65,1089.18 671.51,1089.14 672.37,1089.17 673.23,1089.27 674.09,1089.45 674.95,1089.70 675.81,1090.02 676.67,1090.42 677.53,1090.89 678.39,1091.43 679.25,1092.04 680.11,1092.72 680.97,1093.47 681.83,1094.28 682.69,1095.16 683.55,1096.11 684.41,1097.11 685.27,1098.18 686.13,1099.31 686.99,1100.50 687.85,1101.74 688.71,1103.04 689.57,1104.39 690.43,1105.79 691.29,1107.24 692.15,1108.74 693.01,1110.27 693.87,1111.86 694.72,1113.48 695.58,1115.13 696.44,1116.83 697.30,1118.55 698.16,1120.31 699.02,1122.09 699.88,1123.90 700.74,1125.74 701.60,1127.59 702.46,1129.46 703.32,1131.35 704.18,1133.25 705.04,1135.17 705.90,1137.09 706.76,1139.02 707.62,1140.96 708.48,1142.89 709.34,1144.83 710.20,1146.77 711.06,1148.71 711.92,1150.63 712.78,1152.56 713.64,1154.47 714.50,1156.37 715.36,1158.26 716.22,1160.13 717.08,1161.99 717.94,1163.83 718.80,1165.65 719.66,1167.45 720.52,1169.24 721.38,1170.99 722.24,1172.73 723.10,1174.43 723.95,1176.12 724.81,1177.77 725.67,1179.40 726.53,1181.00 727.39,1182.57 728.25,1184.11 729.11,1185.61 729.97,1187.09 730.83,1188.54 731.69,1189.95 732.55,1191.33 733.41,1192.68 734.27,1194.00 735.13,1195.28 735.99,1196.53 736.85,1197.75 737.71,1198.93 738.57,1200.08 739.43,1201.20 740.29,1202.29 741.15,1203.34 742.01,1204.36 742.87,1205.35 743.73,1206.31 744.59,1207.24 745.45,1208.13 746.31,1209.00 747.17,1209.84 748.03,1210.64 748.89,1211.42 749.75,1212.17 750.61,1212.89 751.47,1213.59 752.33,1214.26 753.19,1214.90 754.04,1215.52 754.90,1216.11 755.76,1216.68 756.62,1217.22 757.48,1217.74 758.34,1218.24 759.20,1218.72 760.06,1219.18 760.92,1219.61 761.78,1220.03 762.64,1220.43 763.50,1220.81 764.36,1221.17 765.22,1221.52 766.08,1221.84 766.94,1222.16 767.80,1222.45 768.66,1222.74 769.52,1223.00 770.38,1223.26 771.24,1223.50 772.10,1223.73 772.96,1223.95 773.82,1224.15 774.68,1224.34 775.54,1224.53 776.40,1224.70 777.26,1224.87 778.12,1225.02 778.98,1225.17 779.84,1225.30 780.70,1225.43 781.56,1225.56 782.42,1225.67 783.28,1225.78 784.13,1225.88 784.99,1225.98 785.85,1226.07 786.71,1226.15 787.57,1226.23 788.43,1226.30 789.29,1226.37 790.15,1226.44 791.01,1226.50 791.87,1226.55 792.73,1226.61 793.59,1226.66 794.45,1226.70 795.31,1226.75 796.17,1226.79 797.03,1226.82 797.89,1226.86 798.75,1226.89 799.61,1226.92 800.47,1226.95 801.33,1226.97 802.19,1227.00 803.05,1227.02 803.91,1227.04 804.77,1227.06 805.63,1227.08 806.49,1227.10 807.35,1227.11 808.21,1227.13 809.07,1227.14 809.93,1227.15 810.79,1227.16 811.65,1227.17 812.51,1227.18 813.37,1227.19 814.22,1227.20 815.08,1227.21 815.94,1227.21 816.80,1227.22 817.66,1227.22 818.52,1227.23 819.38,1227.23 820.24,1227.24 821.10,1227.24 821.96,1227.25 822.82,1227.25 823.68,1227.25 824.54,1227.26 825.40,1227.26 826.26,1227.26 827.12,1227.26 827.98,1227.27 828.84,1227.27 829.70,1227.27 830.56,1227.27 831.42,1227.27 832.28,1227.27 833.14,1227.27 834.00,1227.28 834.86,1227.28 835.72,1227.28 836.58,1227.28 837.44,1227.28 838.30,1227.28 839.16,1227.28 840.02,1227.28 840.88,1227.28 841.74,1227.28 842.60,1227.28 843.46,1227.28 844.31,1227.28 845.17,1227.28 846.03,1227.28 846.89,1227.28 847.75,1227.28 848.61,1227.28 849.47,1227.28 850.33,1227.28 851.19,1227.28 852.05,1227.28 852.91,1227.28 853.77,1227.28 854.63,1227.28 855.49,1227.28 856.35,1227.28 857.21,1227.28 858.07,1227.29 858.93,1227.29 859.79,1227.29 860.65,1227.29 861.51,1227.29 862.37,1227.29 863.23,1227.29 864.09,1227.29 864.95,1227.29 865.81,1227.29 866.67,1227.29 867.53,1227.29 868.39,1227.29 869.25,1227.29 870.11,1227.29 870.97,1227.29 871.83,1227.29 872.69,1227.29 873.54,1227.29 874.40,1227.29 875.26,1227.29 876.12,1227.29 876.98,1227.29 877.84,1227.29 878.70,1227.29 879.56,1227.29 880.42,1227.29 881.28,1227.29 882.14,1227.29 883.00,1227.29 883.86,1227.29 884.72,1227.29 885.58,1227.29 886.44,1227.29 887.30,1227.29 888.16,1227.29 889.02,1227.29 889.88,1227.29 890.74,1227.29 891.60,1227.29 892.46,1227.29 893.32,1227.29 894.18,1227.29 895.04,1227.29 895.90,1227.29 896.76,1227.29 897.62,1227.29 898.48,1227.29 899.34,1227.29 900.20,1227.29 901.06,1227.29 901.92,1227.29 902.78,1227.29 903.63,1227.29 904.49,1227.29 905.35,1227.29 906.21,1227.29 907.07,1227.29 907.93,1227.29 908.79,1227.29 909.65,1227.29 910.51,1227.29 911.37,1227.29 912.23,1227.29 913.09,1227.29 913.95,1227.29 914.81,1227.29 915.67,1227.29 916.53,1227.29 917.39,1227.29 918.25,1227.29 919.11,1227.29 919.97,1227.29 920.83,1227.29 921.69,1227.29 922.55,1227.29 923.41,1227.29 924.27,1227.29 925.13,1227.29 925.99,1227.29 926.85,1227.29 927.71,1227.29 928.57,1227.29 929.43,1227.29 930.29,1227.29 931.15,1227.29 932.01,1227.29 932.87,1227.29 933.72,1227.29 934.58,1227.29 935.44,1227.29 936.30,1227.29 937.16,1227.29 938.02,1227.29 938.88,1227.29 939.74,1227.29 940.60,1227.29 941.46,1227.29 942.32,1227.29 943.18,1227.29 944.04,1227.29 944.90,1227.29 945.76,1227.29 946.62,1227.29 947.48,1227.29 948.34,1227.29 949.20,1227.29 950.06,1227.29 950.92,1227.29 951.78,1227.29 952.64,1227.29 953.50,1227.29 954.36,1227.29 955.22,1227.29 956.08,1227.29 956.94,1227.29 957.80,1227.29 958.66,1227.29 959.52,1227.29 960.38,1227.29 961.24,1227.29 962.10,1227.29 962.96,1227.29 963.81,1227.29 964.67,1227.29 965.53,1227.29 966.39,1227.29 967.25,1227.29 968.11,1227.29 968.97,1227.29 969.83,1227.29 970.69,1227.29 971.55,1227.29 972.41,1227.29 973.27,1227.29 974.13,1227.29 974.99,1227.29 975.85,1227.29 976.71,1227.29 977.57,1227.29 978.43,1227.29 979.29,1227.29 980.15,1227.29 981.01,1227.29 981.87,1227.29 982.73,1227.29 983.59,1227.29 984.45,1227.29 985.31,1227.29 986.17,1227.29 987.03,1227.29 987.89,1227.29 988.75,1227.29 989.61,1227.29 990.47,1227.29 991.33,1227.29 992.19,1227.29 993.04,1227.29 993.90,1227.29 994.76,1227.29 995.62,1227.29 996.48,1227.29 997.34,1227.29 998.20,1227.29 999.06,1227.29 999.92,1227.29 1000.78,1227.29 1001.64,1227.29 1002.50,1227.29 1003.36,1227.29 1004.22,1227.29 1005.08,1227.29 1005.94,1227.29 1006.80,1227.29 1007.66,1227.29 1008.52,1227.29 1009.38,1227.29 1010.24,1227.29 1011.10,1227.29 1011.96,1227.29 1012.82,1227.29 1013.68,1227.29 1014.54,1227.29 1015.40,1227.29 1016.26,1227.29 1017.12,1227.29 1017.98,1227.29 1018.84,1227.29 1019.70,1227.29 1020.56,1227.29 1021.42,1227.29 1022.28,1227.29 1023.13,1227.29 1023.99,1227.29 1024.85,1227.29 1025.71,1227.29 1026.57,1227.29 1027.43,1227.29 1028.29,1227.29 1029.15,1227.29 1030.01,1227.29 1030.87,1227.29 1031.73,1227.29 1032.59,1227.29 1033.45,1227.29 1034.31,1227.29 1035.17,1227.29 1036.03,1227.29 1036.89,1227.29 1037.75,1227.29 1038.61,1227.29 1039.47,1227.29 1040.33,1227.29 1041.19,1227.29 1042.05,1227.29 1042.91,1227.29 1043.77,1227.29 1044.63,1227.29 1045.49,1227.29 1046.35,1227.29 1047.21,1227.29 1048.07,1227.29 1048.93,1227.29 1049.79,1227.29 1050.65,1227.29 1051.51,1227.29 1052.37,1227.29 1053.22,1227.29 1054.08,1227.29 1054.94,1227.29 1055.80,1227.29 1056.66,1227.29 1057.52,1227.29 1058.38,1227.29 1059.24,1227.29 1060.10,1227.29 1060.96,1227.29 1061.82,1227.29 1062.68,1227.29 1063.54,1227.29 1064.40,1227.29 1065.26,1227.29 1066.12,1227.29 1066.98,1227.29 1067.84,1227.29 1068.70,1227.29 1069.56,1227.29 1070.42,1227.29 1071.28,1227.29 1072.14,1227.29 1073.00,1227.29 1073.86,1227.29 1074.72,1227.29 1075.58,1227.29 1076.44,1227.29 1077.30,1227.29 1078.16,1227.29 1079.02,1227.29 1079.88,1227.29 1080.74,1227.29 1081.60,1227.29 1082.46,1227.29 1083.31,1227.29 1084.17,1227.29 1085.03,1227.29 1085.89,1227.29 1086.75,1227.29 1087.61,1227.29 1088.47,1227.29 1089.33,1227.29 1090.19,1227.29 1091.05,1227.29 1091.91,1227.29 1092.77,1227.29 1093.63,1227.29 1094.49,1227.29 1095.35,1227.29 1096.21,1227.29 1097.07,1227.29 1097.93,1227.29 1098.79,1227.29 1099.65,1227.29 1100.51,1227.29 1101.37,1227.29 1102.23,1227.29 1103.09,1227.29 1103.95,1227.29 1104.81,1227.29 1105.67,1227.29 1106.53,1227.29 1107.39,1227.29 1108.25,1227.29 1109.11,1227.29 1109.97,1227.29 1110.83,1227.29 1111.69,1227.29 1112.55,1227.29 1113.40,1227.29 1114.26,1227.29 1115.12,1227.29 1115.98,1227.29 1116.84,1227.29 1117.70,1227.29 1118.56,1227.29 1119.42,1227.29 1120.28,1227.29 1121.14,1227.29 1122.00,1227.29 1122.86,1227.29 1123.72,1227.29 1124.58,1227.29 1125.44,1227.29 1126.30,1227.29 1127.16,1227.29 1128.02,1227.29 1128.88,1227.29 1129.74,1227.29 1130.60,1227.29 1131.46,1227.29 1132.32,1227.29 1133.18,1227.29 1134.04,1227.29 1134.90,1227.29 1135.76,1227.29 1136.62,1227.29 1137.48,1227.29 1138.34,1227.29 1139.20,1227.29 1140.06,1227.29 1140.92,1227.29 1141.78,1227.29 1142.63,1227.29 1143.49,1227.29 1144.35,1227.29 1145.21,1227.29 1146.07,1227.29 1146.93,1227.29 1147.79,1227.29 1148.65,1227.29 1149.51,1227.29 1150.37,1227.29 1151.23,1227.29 1152.09,1227.29 1152.95,1227.29 1153.81,1227.29 1154.67,1227.29 1155.53,1227.29 1156.39,1227.29 1157.25,1227.29 1158.11,1227.29 1158.97,1227.29 1159.83,1227.29 1160.69,1227.29 1161.55,1227.29 1162.41,1227.29 1163.27,1227.29 1164.13,1227.29 1164.99,1227.29 1165.85,1227.29 1166.71,1227.29 1167.57,1227.29 1168.43,1227.29 1169.29,1227.29 1170.15,1227.29 1171.01,1227.29 1171.87,1227.29 1172.72,1227.29 1173.58,1227.29 1174.44,1227.29 1175.30,1227.29 1176.16,1227.29 1177.02,1227.29 1177.88,1227.29 1178.74,1227.29 1179.60,1227.29 1180.46,1227.29 1181.32,1227.29 1182.18,1227.29 1183.04,1227.29 1183.90,1227.29 1184.76,1227.29 1185.62,1227.29 1186.48,1227.29 1187.34,1227.29" fill="none" stroke="#0000FF" stroke-width="3.0" stroke-linejoin="round" stroke-linecap="round"/>
<polyline points="586.40,1227.29 587.26,1227.29 588.12,1227.29 588.98,1227.29 589.84,1227.29 590.70,1227.29 591.56,1227.29 592.42,1227.29 593.28,1227.29 594.14,1227.29 595.00,1227.29 595.86,1227.29 596.72,1227.29 597.58,1227.29 598.44,1227.29 599.30,1227.29 600.16,1227.29 601.02,1227.29 601.88,1227.29 602.74,1227.29 603.60,1227.29 604.45,1227.29 605.31,1227.29 606.17,1227.29 607.03,1227.29 607.89,1227.29 608.75,1227.29 609.61,1227.29 610.47,1227.29 611.33,1227.29 612.19,1227.29 613.05,1227.29 613.91,1227.29 614.77,1227.29 615.63,1227.29 616.49,1227.29 617.35,1227.29 618.21,1227.29 619.07,1227.29 619.93,1227.29 620.79,1227.29 621.65,1227.29 622.51,1227.29 623.37,1227.29 624.23,1227.29 625.09,1227.29 625.95,1227.29 626.81,1227.29 627.67,1227.29 628.53,1227.29 629.39,1227.29 630.25,1227.29 631.11,1227.29 631.97,1227.29 632.83,1227.29 633.69,1227.29 634.54,1227.29 635.40,1227.29 636.26,1227.29 637.12,1227.29 637.98,1227.29 638.84,1227.29 639.70,1227.29 640.56,1227.29 641.42,1227.29 642.28,1227.29 643.14,1227.29 644.00,1227.29 644.86,1227.29 645.72,1227.29 646.58,1227.29 647.44,1227.29 648.30,1227.29 649.16,1227.29 650.02,1227.29 650.88,1227.29 651.74,1227.29 652.60,1227.29 653.46,1227.29 654.32,1227.29 655.18,1227.29 656.04,1227.29 656.90,1227.29 657.76,1227.29 658.62,1227.29 659.48,1227.29 660.34,1227.29 661.20,1227.29 662.06,1227.29 662.92,1227.29 663.78,1227.29 664.63,1227.29 665.49,1227.29 666.35,1227.29 667.21,1227.29 668.07,1227.29 668.93,1227.29 669.79,1227.29 670.65,1227.29 671.51,1227.29 672.37,1227.29 673.23,1227.29 674.09,1227.29 674.95,1227.29 675.81,1227.29 676.67,1227.29 677.53,1227.29 678.39,1227.29 679.25,1227.29 680.11,1227.29 680.97,1227.29 681.83,1227.29 682.69,1227.29 683.55,1227.29 684.41,1227.29 685.27,1227.29 686.13,1227.29 686.99,1227.29 687.85,1227.29 688.71,1227.29 689.57,1227.29 690.43,1227.29 691.29,1227.29 692.15,1227.29 693.01,1227.29 693.87,1227.29 694.72,1227.29 695.58,1227.29 696.44,1227.29 697.30,1227.29 698.16,1227.29 699.02,1227.29 699.88,1227.29 700.74,1227.29 701.60,1227.29 702.46,1227.29 703.32,1227.29 704.18,1227.29 705.04,1227.29 705.90,1227.29 706.76,1227.29 707.62,1227.29 708.48,1227.29 709.34,1227.29 710.20,1227.29 711.06,1227.29 711.92,1227.29 712.78,1227.29 713.64,1227.29 714.50,1227.29 715.36,1227.29 716.22,1227.29 717.08,1227.29 717.94,1227.29 718.80,1227.29 719.66,1227.29 720.52,1227.29 721.38,1227.29 722.24,1227.29 723.10,1227.29 723.95,1227.29 724.81,1227.29 725.67,1227.29 726.53,1227.29 727.39,1227.29 728.25,1227.29 729.11,1227.29 729.97,1227.29 730.83,1227.29 731.69,1227.29 732.55,1227.29 733.41,1227.29 734.27,1227.29 735.13,1227.29 735.99,1227.29 736.85,1227.29 737.71,1227.29 738.57,1227.29 739.43,1227.29 740.29,1227.29 741.15,1227.29 742.01,1227.29 742.87,1227.29 743.73,1227.29 744.59,1227.29 745.45,1227.29 746.31,1227.29 747.17,1227.29 748.03,1227.29 748.89,1227.29 749.75,1227.29 750.61,1227.29 751.47,1227.29 752.33,1227.29 753.19,1227.29 754.04,1227.29 754.90,1227.29 755.76,1227.29 756.62,1227.29 757.48,1227.29 758.34,1227.29 759.20,1227.29 760.06,1227.29 760.92,1227.29 761.78,1227.29 762.64,1227.29 763.50,1227.29 764.36,1227.29 765.22,1227.29 766.08,1227.29 766.94,1227.29 767.80,1227.29 768.66,1227.29 769.52,1227.29 770.38,1227.29 771.24,1227.29 772.10,1227.29 772.96,1227.29 773.82,1227.29 774.68,1227.29 775.54,1227.29 776.40,1227.29 777.26,1227.29 778.12,1227.29 778.98,1227.29 779.84,1227.29 780.70,1227.29 781.56,1227.29 782.42,1227.29 783.28,1227.29 784.13,1227.29 784.99,1227.29 785.85,1227.29 786.71,1227.29 787.57,1227.29 788.43,1227.29 789.29,1227.29 790.15,1227.29 791.01,1227.29 791.87,1227.29 792.73,1227.29 793.59,1227.29 794.45,1227.29 795.31,1227.29 796.17,1227.29 797.03,1227.29 797.89,1227.29 798.75,1227.29 799.61,1227.29 800.47,1227.29 801.33,1227.29 802.19,1227.29 803.05,1227.29 803.91,1227.29 804.77,1227.29 805.63,1227.29 806.49,1227.29 807.35,1227.29 808.21,1227.29 809.07,1227.29 809.93,1227.29 810.79,1227.29 811.65,1227.29 812.51,1227.29 813.37,1227.29 814.22,1227.29 815.08,1227.29 815.94,1227.29 816.80,1227.29 817.66,1227.29 818.52,1227.29 819.38,1227.29 820.24,1227.29 821.10,1227.29 821.96,1227.29 822.82,1227.29 823.68,1227.29 824.54,1227.29 825.40,1227.29 826.26,1227.29 827.12,1227.29 827.98,1227.29 828.84,1227.28 829.70,1227.28 830.56,1227.28 831.42,1227.28 832.28,1227.28 833.14,1227.28 834.00,1227.28 834.86,1227.28 835.72,1227.28 836.58,1227.28 837.44,1227.28 838.30,1227.28 839.16,1227.28 840.02,1227.27 840.88,1227.27 841.74,1227.27 842.60,1227.26 843.46,1227.26 844.31,1227.25 845.17,1227.24 846.03,1227.23 846.89,1227.22 847.75,1227.20 848.61,1227.18 849.47,1227.16 850.33,1227.14 851.19,1227.11 852.05,1227.07 852.91,1227.02 853.77,1226.97 854.63,1226.91 855.49,1226.84 856.35,1226.75 857.21,1226.65 858.07,1226.53 858.93,1226.40 859.79,1226.24 860.65,1226.05 861.51,1225.84 862.37,1225.59 863.23,1225.31 864.09,1224.98 864.95,1224.61 865.81,1224.18 866.67,1223.70 867.53,1223.15 868.39,1222.53 869.25,1221.83 870.11,1221.05 870.97,1220.16 871.83,1219.18 872.69,1218.08 873.54,1216.85 874.40,1215.50 875.26,1214.00 876.12,1212.35 876.98,1210.54 877.84,1208.55 878.70,1206.38 879.56,1204.02 880.42,1201.46 881.28,1198.69 882.14,1195.69 883.00,1192.48 883.86,1189.03 884.72,1185.35 885.58,1181.42 886.44,1177.26 887.30,1172.86 888.16,1168.22 889.02,1163.34 889.88,1158.24 890.74,1152.91 891.60,1147.38 892.46,1141.65 893.32,1135.74 894.18,1129.66 895.04,1123.45 895.90,1117.12 896.76,1110.70 897.62,1104.21 898.48,1097.69 899.34,1091.17 900.20,1084.68 901.06,1078.26 901.92,1071.94 902.78,1065.75 903.63,1059.75 904.49,1053.96 905.35,1048.41 906.21,1043.16 907.07,1038.23 907.93,1033.65 908.79,1029.46 909.65,1025.70 910.51,1022.37 911.37,1019.51 912.23,1017.15 913.09,1015.29 913.95,1013.96 914.81,1013.15 915.67,1012.88 916.53,1013.16 917.39,1013.97 918.25,1015.31 919.11,1017.17 919.97,1019.54 920.83,1022.41 921.69,1025.74 922.55,1029.51 923.41,1033.70 924.27,1038.28 925.13,1043.22 925.99,1048.48 926.85,1054.02 927.71,1059.81 928.57,1065.82 929.43,1072.01 930.29,1078.33 931.15,1084.76 932.01,1091.25 932.87,1097.77 933.72,1104.29 934.58,1110.77 935.44,1117.19 936.30,1123.52 937.16,1129.73 938.02,1135.80 938.88,1141.71 939.74,1147.44 940.60,1152.97 941.46,1158.29 942.32,1163.40 943.18,1168.27 944.04,1172.91 944.90,1177.31 945.76,1181.47 946.62,1185.39 947.48,1189.07 948.34,1192.52 949.20,1195.73 950.06,1198.72 950.92,1201.49 951.78,1204.05 952.64,1206.41 953.50,1208.58 954.36,1210.56 955.22,1212.37 956.08,1214.02 956.94,1215.52 957.80,1216.87 958.66,1218.09 959.52,1219.19 960.38,1220.17 961.24,1221.05 962.10,1221.84 962.96,1222.54 963.81,1223.16 964.67,1223.71 965.53,1224.19 966.39,1224.61 967.25,1224.98 968.11,1225.31 968.97,1225.59 969.83,1225.84 970.69,1226.05 971.55,1226.24 972.41,1226.40 973.27,1226.53 974.13,1226.65 974.99,1226.75 975.85,1226.84 976.71,1226.91 977.57,1226.97 978.43,1227.02 979.29,1227.07 980.15,1227.11 981.01,1227.14 981.87,1227.16 982.73,1227.18 983.59,1227.20 984.45,1227.22 985.31,1227.23 986.17,1227.24 987.03,1227.25 987.89,1227.26 988.75,1227.26 989.61,1227.27 990.47,1227.27 991.33,1227.27 992.19,1227.28 993.04,1227.28 993.90,1227.28 994.76,1227.28 995.62,1227.28 996.48,1227.28 997.34,1227.28 998.20,1227.28 999.06,1227.28 999.92,1227.28 1000.78,1227.28 1001.64,1227.28 1002.50,1227.28 1003.36,1227.29 1004.22,1227.29 1005.08,1227.29 1005.94,1227.29 1006.80,1227.29 1007.66,1227.29 1008.52,1227.29 1009.38,1227.29 1010.24,1227.29 1011.10,1227.29 1011.96,1227.29 1012.82,1227.29 1013.68,1227.29 1014.54,1227.29 1015.40,1227.29 1016.26,1227.29 1017.12,1227.29 1017.98,1227.29 1018.84,1227.29 1019.70,1227.29 1020.56,1227.29 1021.42,1227.29 1022.28,1227.29 1023.13,1227.29 1023.99,1227.29 1024.85,1227.29 1025.71,1227.29 1026.57,1227.29 1027.43,1227.29 1028.29,1227.29 1029.15,1227.29 1030.01,1227.29 1030.87,1227.29 1031.73,1227.29 1032.59,1227.29 1033.45,1227.29 1034.31,1227.29 1035.17,1227.29 1036.03,1227.29 1036.89,1227.29 1037.75,1227.29 1038.61,1227.29 1039.47,1227.29 1040.33,1227.29 1041.19,1227.29 1042.05,1227.29 1042.91,1227.29 1043.77,1227.29 1044.63,1227.29 1045.49,1227.29 1046.35,1227.29 1047.21,1227.29 1048.07,1227.29 1048.93,1227.29 1049.79,1227.29 1050.65,1227.29 1051.51,1227.29 1052.37,1227.29 1053.22,1227.29 1054.08,1227.29 1054.94,1227.29 1055.80,1227.29 1056.66,1227.29 1057.52,1227.29 1058.38,1227.29 1059.24,1227.29 1060.10,1227.29 1060.96,1227.29 1061.82,1227.29 1062.68,1227.29 1063.54,1227.29 1064.40,1227.29 1065.26,1227.29 1066.12,1227.29 1066.98,1227.29 1067.84,1227.29 1068.70,1227.29 1069.56,1227.29 1070.42,1227.29 1071.28,1227.29 1072.14,1227.29 1073.00,1227.29 1073.86,1227.29 1074.72,1227.29 1075.58,1227.29 1076.44,1227.29 1077.30,1227.29 1078.16,1227.29 1079.02,1227.29 1079.88,1227.29 1080.74,1227.29 1081.60,1227.29 1082.46,1227.29 1083.31,1227.29 1084.17,1227.29 1085.03,1227.29 1085.89,1227.29 1086.75,1227.29 1087.61,1227.29 1088.47,1227.29 1089.33,1227.29 1090.19,1227.29 1091.05,1227.29 1091.91,1227.29 1092.77,1227.29 1093.63,1227.29 1094.49,1227.29 1095.35,1227.29 1096.21,1227.29 1097.07,1227.29 1097.93,1227.29 1098.79,1227.29 1099.65,1227.29 1100.51,1227.29 1101.37,1227.29 1102.23,1227.29 1103.09,1227.29 1103.95,1227.29 1104.81,1227.29 1105.67,1227.29 1106.53,1227.29 1107.39,1227.29 1108.25,1227.29 1109.11,1227.29 1109.97,1227.29 1110.83,1227.29 1111.69,1227.29 1112.55,1227.29 1113.40,1227.29 1114.26,1227.29 1115.12,1227.29 1115.98,1227.29 1116.84,1227.29 1117.70,1227.29 1118.56,1227.29 1119.42,1227.29 1120.28,1227.29 1121.14,1227.29 1122.00,1227.29 1122.86,1227.29 1123.72,1227.29 1124.58,1227.29 1125.44,1227.29 1126.30,1227.29 1127.16,1227.29 1128.02,1227.29 1128.88,1227.29 1129.74,1227.29 1130.60,1227.29 1131.46,1227.29 1132.32,1227.29 1133.18,1227.29 1134.04,1227.29 1134.90,1227.29 1135.76,1227.29 1136.62,1227.29 1137.48,1227.29 1138.34,1227.29 1139.20,1227.29 1140.06,1227.29 1140.92,1227.29 1141.78,1227.29 1142.63,1227.29 1143.49,1227.29 1144.35,1227.29 1145.21,1227.29 1146.07,1227.29 1146.93,1227.29 1147.79,1227.29 1148.65,1227.29 1149.51,1227.29 1150.37,1227.29 1151.23,1227.29 1152.09,1227.29 1152.95,1227.29 1153.81,1227.29 1154.67,1227.29 1155.53,1227.29 1156.39,1227.29 1157.25,1227.29 1158.11,1227.29 1158.97,1227.29 1159.83,1227.29 1160.69,1227.29 1161.55,1227.29 1162.41,1227.29 1163.27,1227.29 1164.13,1227.29 1164.99,1227.29 1165.85,1227.29 1166.71,1227.29 1167.57,1227.29 1168.43,1227.29 1169.29,1227.29 1170.15,1227.29 1171.01,1227.29 1171.87,1227.29 1172.72,1227.29 1173.58,1227.29 1174.44,1227.29 1175.30,1227.29 1176.16,1227.29 1177.02,1227.29 1177.88,1227.29 1178.74,1227.29 1179.60,1227.29 1180.46,1227.29 1181.32,1227.29 1182.18,1227.29 1183.04,1227.29 1183.90,1227.29 1184.76,1227.29 1185.62,1227.29 1186.48,1227.29 1187.34,1227.29" fill="none" stroke="#FF00FF" stroke-width="2.6" stroke-linejoin="round" stroke-linecap="round"/>
<polyline points="586.40,1227.29 587.26,1227.29 588.12,1227.29 588.98,1227.29 589.84,1227.29 590.70,1227.29 591.56,1227.29 592.42,1227.29 593.28,1227.29 594.14,1227.29 595.00,1227.29 595.86,1227.29 596.72,1227.29 597.58,1227.29 598.44,1227.29 599.30,1227.29 600.16,1227.29 601.02,1227.29 601.88,1227.29 602.74,1227.29 603.60,1227.29 604.45,1227.29 605.31,1227.29 606.17,1227.29 607.03,1227.29 607.89,1227.29 608.75,1227.29 609.61,1227.29 610.47,1227.29 611.33,1227.29 612.19,1227.29 613.05,1227.29 613.91,1227.29 614.77,1227.29 615.63,1227.29 616.49,1227.29 617.35,1227.29 618.21,1227.29 619.07,1227.29 619.93,1227.29 620.79,1227.29 621.65,1227.29 622.51,1227.29 623.37,1227.29 624.23,1227.29 625.09,1227.29 625.95,1227.29 626.81,1227.29 627.67,1227.29 628.53,1227.29 629.39,1227.29 630.25,1227.29 631.11,1227.29 631.97,1227.29 632.83,1227.29 633.69,1227.29 634.54,1227.29 635.40,1227.29 636.26,1227.29 637.12,1227.29 637.98,1227.29 638.84,1227.29 639.70,1227.29 640.56,1227.29 641.42,1227.29 642.28,1227.29 643.14,1227.29 644.00,1227.29 644.86,1227.29 645.72,1227.29 646.58,1227.29 647.44,1227.29 648.30,1227.29 649.16,1227.29 650.02,1227.29 650.88,1227.29 651.74,1227.29 652.60,1227.29 653.46,1227.29 654.32,1227.29 655.18,1227.29 656.04,1227.29 656.90,1227.29 657.76,1227.29 658.62,1227.29 659.48,1227.29 660.34,1227.29 661.20,1227.29 662.06,1227.29 662.92,1227.29 663.78,1227.29 664.63,1227.29 665.49,1227.29 666.35,1227.29 667.21,1227.29 668.07,1227.29 668.93,1227.29 669.79,1227.29 670.65,1227.29 671.51,1227.29 672.37,1227.29 673.23,1227.29 674.09,1227.29 674.95,1227.29 675.81,1227.29 676.67,1227.29 677.53,1227.29 678.39,1227.29 679.25,1227.29 680.11,1227.29 680.97,1227.29 681.83,1227.29 682.69,1227.29 683.55,1227.29 684.41,1227.29 685.27,1227.29 686.13,1227.29 686.99,1227.29 687.85,1227.29 688.71,1227.29 689.57,1227.29 690.43,1227.29 691.29,1227.29 692.15,1227.29 693.01,1227.29 693.87,1227.29 694.72,1227.29 695.58,1227.29 696.44,1227.29 697.30,1227.29 698.16,1227.29 699.02,1227.29 699.88,1227.29 700.74,1227.29 701.60,1227.29 702.46,1227.29 703.32,1227.29 704.18,1227.29 705.04,1227.29 705.90,1227.29 706.76,1227.29 707.62,1227.29 708.48,1227.29 709.34,1227.29 710.20,1227.29 711.06,1227.29 711.92,1227.29 712.78,1227.29 713.64,1227.29 714.50,1227.29 715.36,1227.29 716.22,1227.29 717.08,1227.29 717.94,1227.29 718.80,1227.29 719.66,1227.29 720.52,1227.29 721.38,1227.29 722.24,1227.29 723.10,1227.29 723.95,1227.29 724.81,1227.29 725.67,1227.29 726.53,1227.29 727.39,1227.29 728.25,1227.29 729.11,1227.29 729.97,1227.29 730.83,1227.29 731.69,1227.29 732.55,1227.29 733.41,1227.29 734.27,1227.29 735.13,1227.29 735.99,1227.29 736.85,1227.29 737.71,1227.29 738.57,1227.29 739.43,1227.29 740.29,1227.29 741.15,1227.29 742.01,1227.29 742.87,1227.29 743.73,1227.29 744.59,1227.29 745.45,1227.29 746.31,1227.29 747.17,1227.29 748.03,1227.29 748.89,1227.29 749.75,1227.29 750.61,1227.29 751.47,1227.29 752.33,1227.29 753.19,1227.29 754.04,1227.29 754.90,1227.29 755.76,1227.29 756.62,1227.29 757.48,1227.29 758.34,1227.29 759.20,1227.29 760.06,1227.29 760.92,1227.29 761.78,1227.29 762.64,1227.29 763.50,1227.29 764.36,1227.29 765.22,1227.29 766.08,1227.29 766.94,1227.29 767.80,1227.29 768.66,1227.29 769.52,1227.29 770.38,1227.29 771.24,1227.29 772.10,1227.29 772.96,1227.29 773.82,1227.29 774.68,1227.29 775.54,1227.29 776.40,1227.29 777.26,1227.29 778.12,1227.29 778.98,1227.29 779.84,1227.29 780.70,1227.29 781.56,1227.29 782.42,1227.29 783.28,1227.29 784.13,1227.29 784.99,1227.29 785.85,1227.29 786.71,1227.29 787.57,1227.29 788.43,1227.28 789.29,1227.28 790.15,1227.28 791.01,1227.28 791.87,1227.28 792.73,1227.28 793.59,1227.28 794.45,1227.28 795.31,1227.28 796.17,1227.28 797.03,1227.28 797.89,1227.28 798.75,1227.28 799.61,1227.28 800.47,1227.28 801.33,1227.28 802.19,1227.28 803.05,1227.28 803.91,1227.28 804.77,1227.28 805.63,1227.28 806.49,1227.28 807.35,1227.28 808.21,1227.28 809.07,1227.28 809.93,1227.27 810.79,1227.27 811.65,1227.27 812.51,1227.27 813.37,1227.27 814.22,1227.27 815.08,1227.26 815.94,1227.26 816.80,1227.26 817.66,1227.26 818.52,1227.25 819.38,1227.25 820.24,1227.25 821.10,1227.24 821.96,1227.24 822.82,1227.23 823.68,1227.23 824.54,1227.22 825.40,1227.21 826.26,1227.21 827.12,1227.20 827.98,1227.19 828.84,1227.18 829.70,1227.17 830.56,1227.15 831.42,1227.14 832.28,1227.13 833.14,1227.11 834.00,1227.09 834.86,1227.08 835.72,1227.06 836.58,1227.03 837.44,1227.01 838.30,1226.98 839.16,1226.96 840.02,1226.92 840.88,1226.89 841.74,1226.86 842.60,1226.82 843.46,1226.77 844.31,1226.73 845.17,1226.68 846.03,1226.63 846.89,1226.57 847.75,1226.51 848.61,1226.44 849.47,1226.37 850.33,1226.29 851.19,1226.21 852.05,1226.12 852.91,1226.03 853.77,1225.92 854.63,1225.82 855.49,1225.70 856.35,1225.57 857.21,1225.44 858.07,1225.30 858.93,1225.15 859.79,1224.99 860.65,1224.81 861.51,1224.63 862.37,1224.44 863.23,1224.23 864.09,1224.01 864.95,1223.78 865.81,1223.53 866.67,1223.27 867.53,1222.99 868.39,1222.70 869.25,1222.39 870.11,1222.07 870.97,1221.72 871.83,1221.36 872.69,1220.98 873.54,1220.58 874.40,1220.16 875.26,1219.71 876.12,1219.25 876.98,1218.76 877.84,1218.25 878.70,1217.71 879.56,1217.15 880.42,1216.57 881.28,1215.96 882.14,1215.32 883.00,1214.66 883.86,1213.96 884.72,1213.24 885.58,1212.49 886.44,1211.72 887.30,1210.91 888.16,1210.07 889.02,1209.20 889.88,1208.30 890.74,1207.37 891.60,1206.41 892.46,1205.42 893.32,1204.40 894.18,1203.34 895.04,1202.26 895.90,1201.14 896.76,1200.00 897.62,1198.82 898.48,1197.61 899.34,1196.37 900.20,1195.11 901.06,1193.81 901.92,1192.49 902.78,1191.14 903.63,1189.76 904.49,1188.36 905.35,1186.93 906.21,1185.48 907.07,1184.01 907.93,1182.52 908.79,1181.00 909.65,1179.48 910.51,1177.93 911.37,1176.37 912.23,1174.80 913.09,1173.21 913.95,1171.62 914.81,1170.02 915.67,1168.41 916.53,1166.80 917.39,1165.19 918.25,1163.59 919.11,1161.98 919.97,1160.38 920.83,1158.79 921.69,1157.21 922.55,1155.65 923.41,1154.10 924.27,1152.57 925.13,1151.06 925.99,1149.57 926.85,1148.11 927.71,1146.68 928.57,1145.28 929.43,1143.91 930.29,1142.58 931.15,1141.29 932.01,1140.04 932.87,1138.83 933.72,1137.67 934.58,1136.56 935.44,1135.49 936.30,1134.48 937.16,1133.52 938.02,1132.62 938.88,1131.77 939.74,1130.99 940.60,1130.26 941.46,1129.60 942.32,1129.00 943.18,1128.47 944.04,1128.00 944.90,1127.60 945.76,1127.27 946.62,1127.01 947.48,1126.81 948.34,1126.69 949.20,1126.63 950.06,1126.65 950.92,1126.73 951.78,1126.89 952.64,1127.11 953.50,1127.41 954.36,1127.77 955.22,1128.20 956.08,1128.69 956.94,1129.25 957.80,1129.88 958.66,1130.57 959.52,1131.32 960.38,1132.13 961.24,1133.00 962.10,1133.93 962.96,1134.91 963.81,1135.95 964.67,1137.03 965.53,1138.17 966.39,1139.35 967.25,1140.58 968.11,1141.85 968.97,1143.16 969.83,1144.50 970.69,1145.88 971.55,1147.30 972.41,1148.74 973.27,1150.22 974.13,1151.71 974.99,1153.23 975.85,1154.77 976.71,1156.33 977.57,1157.90 978.43,1159.48 979.29,1161.08 980.15,1162.68 981.01,1164.28 981.87,1165.89 982.73,1167.50 983.59,1169.11 984.45,1170.71 985.31,1172.31 986.17,1173.90 987.03,1175.48 987.89,1177.05 988.75,1178.60 989.61,1180.14 990.47,1181.66 991.33,1183.17 992.19,1184.65 993.04,1186.11 993.90,1187.55 994.76,1188.97 995.62,1190.36 996.48,1191.73 997.34,1193.07 998.20,1194.38 999.06,1195.66 999.92,1196.91 1000.78,1198.14 1001.64,1199.33 1002.50,1200.50 1003.36,1201.63 1004.22,1202.73 1005.08,1203.81 1005.94,1204.85 1006.80,1205.86 1007.66,1206.83 1008.52,1207.78 1009.38,1208.70 1010.24,1209.58 1011.10,1210.44 1011.96,1211.26 1012.82,1212.06 1013.68,1212.82 1014.54,1213.56 1015.40,1214.27 1016.26,1214.95 1017.12,1215.60 1017.98,1216.23 1018.84,1216.83 1019.70,1217.40 1020.56,1217.95 1021.42,1218.47 1022.28,1218.98 1023.13,1219.45 1023.99,1219.91 1024.85,1220.34 1025.71,1220.76 1026.57,1221.15 1027.43,1221.52 1028.29,1221.88 1029.15,1222.21 1030.01,1222.53 1030.87,1222.83 1031.73,1223.12 1032.59,1223.39 1033.45,1223.64 1034.31,1223.88 1035.17,1224.11 1036.03,1224.32 1036.89,1224.52 1037.75,1224.71 1038.61,1224.89 1039.47,1225.06 1040.33,1225.22 1041.19,1225.36 1042.05,1225.50 1042.91,1225.63 1043.77,1225.75 1044.63,1225.86 1045.49,1225.97 1046.35,1226.07 1047.21,1226.16 1048.07,1226.25 1048.93,1226.33 1049.79,1226.40 1050.65,1226.47 1051.51,1226.53 1052.37,1226.59 1053.22,1226.65 1054.08,1226.70 1054.94,1226.75 1055.80,1226.79 1056.66,1226.83 1057.52,1226.87 1058.38,1226.91 1059.24,1226.94 1060.10,1226.97 1060.96,1226.99 1061.82,1227.02 1062.68,1227.04 1063.54,1227.06 1064.40,1227.08 1065.26,1227.10 1066.12,1227.12 1066.98,1227.13 1067.84,1227.15 1068.70,1227.16 1069.56,1227.17 1070.42,1227.18 1071.28,1227.19 1072.14,1227.20 1073.00,1227.21 1073.86,1227.22 1074.72,1227.22 1075.58,1227.23 1076.44,1227.23 1077.30,1227.24 1078.16,1227.24 1079.02,1227.25 1079.88,1227.25 1080.74,1227.26 1081.60,1227.26 1082.46,1227.26 1083.31,1227.26 1084.17,1227.27 1085.03,1227.27 1085.89,1227.27 1086.75,1227.27 1087.61,1227.27 1088.47,1227.27 1089.33,1227.28 1090.19,1227.28 1091.05,1227.28 1091.91,1227.28 1092.77,1227.28 1093.63,1227.28 1094.49,1227.28 1095.35,1227.28 1096.21,1227.28 1097.07,1227.28 1097.93,1227.28 1098.79,1227.28 1099.65,1227.28 1100.51,1227.28 1101.37,1227.28 1102.23,1227.28 1103.09,1227.28 1103.95,1227.28 1104.81,1227.28 1105.67,1227.28 1106.53,1227.28 1107.39,1227.28 1108.25,1227.28 1109.11,1227.28 1109.97,1227.28 1110.83,1227.28 1111.69,1227.29 1112.55,1227.29 1113.40,1227.29 1114.26,1227.29 1115.12,1227.29 1115.98,1227.29 1116.84,1227.29 1117.70,1227.29 1118.56,1227.29 1119.42,1227.29 1120.28,1227.29 1121.14,1227.29 1122.00,1227.29 1122.86,1227.29 1123.72,1227.29 1124.58,1227.29 1125.44,1227.29 1126.30,1227.29 1127.16,1227.29 1128.02,1227.29 1128.88,1227.29 1129.74,1227.29 1130.60,1227.29 1131.46,1227.29 1132.32,1227.29 1133.18,1227.29 1134.04,1227.29 1134.90,1227.29 1135.76,1227.29 1136.62,1227.29 1137.48,1227.29 1138.34,1227.29 1139.20,1227.29 1140.06,1227.29 1140.92,1227.29 1141.78,1227.29 1142.63,1227.29 1143.49,1227.29 1144.35,1227.29 1145.21,1227.29 1146.07,1227.29 1146.93,1227.29 1147.79,1227.29 1148.65,1227.29 1149.51,1227.29 1150.37,1227.29 1151.23,1227.29 1152.09,1227.29 1152.95,1227.29 1153.81,1227.29 1154.67,1227.29 1155.53,1227.29 1156.39,1227.29 1157.25,1227.29 1158.11,1227.29 1158.97,1227.29 1159.83,1227.29 1160.69,1227.29 1161.55,1227.29 1162.41,1227.29 1163.27,1227.29 1164.13,1227.29 1164.99,1227.29 1165.85,1227.29 1166.71,1227.29 1167.57,1227.29 1168.43,1227.29 1169.29,1227.29 1170.15,1227.29 1171.01,1227.29 1171.87,1227.29 1172.72,1227.29 1173.58,1227.29 1174.44,1227.29 1175.30,1227.29 1176.16,1227.29 1177.02,1227.29 1177.88,1227.29 1178.74,1227.29 1179.60,1227.29 1180.46,1227.29 1181.32,1227.29 1182.18,1227.29 1183.04,1227.29 1183.90,1227.29 1184.76,1227.29 1185.62,1227.29 1186.48,1227.29 1187.34,1227.29" fill="none" stroke="#FF0066" stroke-width="2.6" stroke-linejoin="round" stroke-linecap="round"/>
<polyline points="586.40,1227.29 587.26,1227.29 588.12,1227.29 588.98,1227.29 589.84,1227.29 590.70,1227.29 591.56,1227.29 592.42,1227.29 593.28,1227.29 594.14,1227.29 595.00,1227.29 595.86,1227.29 596.72,1227.29 597.58,1227.29 598.44,1227.29 599.30,1227.29 600.16,1227.29 601.02,1227.29 601.88,1227.29 602.74,1227.29 603.60,1227.29 604.45,1227.29 605.31,1227.29 606.17,1227.29 607.03,1227.29 607.89,1227.29 608.75,1227.29 609.61,1227.29 610.47,1227.29 611.33,1227.29 612.19,1227.29 613.05,1227.29 613.91,1227.29 614.77,1227.29 615.63,1227.29 616.49,1227.29 617.35,1227.29 618.21,1227.29 619.07,1227.29 619.93,1227.29 620.79,1227.29 621.65,1227.29 622.51,1227.29 623.37,1227.29 624.23,1227.29 625.09,1227.29 625.95,1227.29 626.81,1227.29 627.67,1227.29 628.53,1227.29 629.39,1227.29 630.25,1227.29 631.11,1227.29 631.97,1227.29 632.83,1227.29 633.69,1227.29 634.54,1227.29 635.40,1227.29 636.26,1227.29 637.12,1227.29 637.98,1227.29 638.84,1227.29 639.70,1227.29 640.56,1227.29 641.42,1227.29 642.28,1227.29 643.14,1227.29 644.00,1227.29 644.86,1227.29 645.72,1227.29 646.58,1227.29 647.44,1227.29 648.30,1227.29 649.16,1227.29 650.02,1227.29 650.88,1227.29 651.74,1227.29 652.60,1227.29 653.46,1227.29 654.32,1227.29 655.18,1227.29 656.04,1227.29 656.90,1227.29 657.76,1227.29 658.62,1227.29 659.48,1227.29 660.34,1227.29 661.20,1227.29 662.06,1227.29 662.92,1227.29 663.78,1227.29 664.63,1227.29 665.49,1227.29 666.35,1227.29 667.21,1227.29 668.07,1227.29 668.93,1227.29 669.79,1227.29 670.65,1227.29 671.51,1227.29 672.37,1227.29 673.23,1227.29 674.09,1227.29 674.95,1227.29 675.81,1227.29 676.67,1227.29 677.53,1227.29 678.39,1227.29 679.25,1227.29 680.11,1227.29 680.97,1227.29 681.83,1227.29 682.69,1227.29 683.55,1227.29 684.41,1227.29 685.27,1227.29 686.13,1227.29 686.99,1227.29 687.85,1227.29 688.71,1227.29 689.57,1227.29 690.43,1227.29 691.29,1227.29 692.15,1227.29 693.01,1227.29 693.87,1227.29 694.72,1227.29 695.58,1227.29 696.44,1227.29 697.30,1227.29 698.16,1227.29 699.02,1227.29 699.88,1227.29 700.74,1227.29 701.60,1227.29 702.46,1227.29 703.32,1227.29 704.18,1227.29 705.04,1227.29 705.90,1227.29 706.76,1227.29 707.62,1227.29 708.48,1227.29 709.34,1227.29 710.20,1227.29 711.06,1227.29 711.92,1227.29 712.78,1227.29 713.64,1227.29 714.50,1227.29 715.36,1227.29 716.22,1227.29 717.08,1227.29 717.94,1227.29 718.80,1227.29 719.66,1227.29 720.52,1227.29 721.38,1227.29 722.24,1227.29 723.10,1227.29 723.95,1227.29 724.81,1227.29 725.67,1227.29 726.53,1227.29 727.39,1227.29 728.25,1227.29 729.11,1227.29 729.97,1227.29 730.83,1227.29 731.69,1227.29 732.55,1227.29 733.41,1227.29 734.27,1227.29 735.13,1227.29 735.99,1227.29 736.85,1227.29 737.71,1227.29 738.57,1227.29 739.43,1227.29 740.29,1227.29 741.15,1227.29 742.01,1227.29 742.87,1227.29 743.73,1227.29 744.59,1227.29 745.45,1227.29 746.31,1227.29 747.17,1227.29 748.03,1227.29 748.89,1227.29 749.75,1227.29 750.61,1227.29 751.47,1227.29 752.33,1227.29 753.19,1227.29 754.04,1227.28 754.90,1227.28 755.76,1227.28 756.62,1227.28 757.48,1227.28 758.34,1227.28 759.20,1227.28 760.06,1227.28 760.92,1227.28 761.78,1227.28 762.64,1227.28 763.50,1227.28 764.36,1227.28 765.22,1227.28 766.08,1227.28 766.94,1227.28 767.80,1227.28 768.66,1227.28 769.52,1227.28 770.38,1227.28 771.24,1227.28 772.10,1227.28 772.96,1227.28 773.82,1227.28 774.68,1227.28 775.54,1227.28 776.40,1227.28 777.26,1227.28 778.12,1227.28 778.98,1227.28 779.84,1227.28 780.70,1227.28 781.56,1227.28 782.42,1227.28 783.28,1227.28 784.13,1227.28 784.99,1227.28 785.85,1227.28 786.71,1227.28 787.57,1227.28 788.43,1227.28 789.29,1227.28 790.15,1227.28 791.01,1227.28 791.87,1227.28 792.73,1227.28 793.59,1227.28 794.45,1227.28 795.31,1227.27 796.17,1227.27 797.03,1227.27 797.89,1227.27 798.75,1227.27 799.61,1227.27 800.47,1227.27 801.33,1227.27 802.19,1227.27 803.05,1227.27 803.91,1227.27 804.77,1227.26 805.63,1227.26 806.49,1227.26 807.35,1227.26 808.21,1227.26 809.07,1227.26 809.93,1227.26 810.79,1227.25 811.65,1227.25 812.51,1227.25 813.37,1227.25 814.22,1227.25 815.08,1227.24 815.94,1227.24 816.80,1227.24 817.66,1227.24 818.52,1227.23 819.38,1227.23 820.24,1227.23 821.10,1227.23 821.96,1227.22 822.82,1227.22 823.68,1227.22 824.54,1227.21 825.40,1227.21 826.26,1227.20 827.12,1227.20 827.98,1227.20 828.84,1227.19 829.70,1227.19 830.56,1227.18 831.42,1227.18 832.28,1227.17 833.14,1227.16 834.00,1227.16 834.86,1227.15 835.72,1227.14 836.58,1227.14 837.44,1227.13 838.30,1227.12 839.16,1227.11 840.02,1227.11 840.88,1227.10 841.74,1227.09 842.60,1227.08 843.46,1227.07 844.31,1227.06 845.17,1227.05 846.03,1227.03 846.89,1227.02 847.75,1227.01 848.61,1227.00 849.47,1226.98 850.33,1226.97 851.19,1226.95 852.05,1226.94 852.91,1226.92 853.77,1226.91 854.63,1226.89 855.49,1226.87 856.35,1226.85 857.21,1226.83 858.07,1226.81 858.93,1226.79 859.79,1226.77 860.65,1226.75 861.51,1226.73 862.37,1226.70 863.23,1226.68 864.09,1226.65 864.95,1226.62 865.81,1226.60 866.67,1226.57 867.53,1226.54 868.39,1226.51 869.25,1226.47 870.11,1226.44 870.97,1226.41 871.83,1226.37 872.69,1226.33 873.54,1226.29 874.40,1226.25 875.26,1226.21 876.12,1226.17 876.98,1226.13 877.84,1226.08 878.70,1226.04 879.56,1225.99 880.42,1225.94 881.28,1225.89 882.14,1225.83 883.00,1225.78 883.86,1225.72 884.72,1225.66 885.58,1225.60 886.44,1225.54 887.30,1225.48 888.16,1225.41 889.02,1225.35 889.88,1225.28 890.74,1225.20 891.60,1225.13 892.46,1225.06 893.32,1224.98 894.18,1224.90 895.04,1224.82 895.90,1224.73 896.76,1224.64 897.62,1224.56 898.48,1224.46 899.34,1224.37 900.20,1224.27 901.06,1224.18 901.92,1224.08 902.78,1223.97 903.63,1223.87 904.49,1223.76 905.35,1223.64 906.21,1223.53 907.07,1223.41 907.93,1223.29 908.79,1223.17 909.65,1223.05 910.51,1222.92 911.37,1222.79 912.23,1222.65 913.09,1222.52 913.95,1222.38 914.81,1222.24 915.67,1222.09 916.53,1221.94 917.39,1221.79 918.25,1221.64 919.11,1221.48 919.97,1221.32 920.83,1221.15 921.69,1220.99 922.55,1220.82 923.41,1220.65 924.27,1220.47 925.13,1220.29 925.99,1220.11 926.85,1219.92 927.71,1219.74 928.57,1219.54 929.43,1219.35 930.29,1219.15 931.15,1218.95 932.01,1218.75 932.87,1218.54 933.72,1218.33 934.58,1218.12 935.44,1217.91 936.30,1217.69 937.16,1217.47 938.02,1217.24 938.88,1217.02 939.74,1216.79 940.60,1216.56 941.46,1216.32 942.32,1216.08 943.18,1215.84 944.04,1215.60 944.90,1215.36 945.76,1215.11 946.62,1214.86 947.48,1214.61 948.34,1214.36 949.20,1214.10 950.06,1213.84 950.92,1213.58 951.78,1213.32 952.64,1213.06 953.50,1212.79 954.36,1212.52 955.22,1212.26 956.08,1211.99 956.94,1211.71 957.80,1211.44 958.66,1211.17 959.52,1210.89 960.38,1210.62 961.24,1210.34 962.10,1210.07 962.96,1209.79 963.81,1209.51 964.67,1209.23 965.53,1208.95 966.39,1208.67 967.25,1208.39 968.11,1208.12 968.97,1207.84 969.83,1207.56 970.69,1207.28 971.55,1207.00 972.41,1206.73 973.27,1206.45 974.13,1206.18 974.99,1205.91 975.85,1205.64 976.71,1205.37 977.57,1205.10 978.43,1204.83 979.29,1204.57 980.15,1204.30 981.01,1204.04 981.87,1203.79 982.73,1203.53 983.59,1203.28 984.45,1203.03 985.31,1202.78 986.17,1202.54 987.03,1202.29 987.89,1202.06 988.75,1201.82 989.61,1201.59 990.47,1201.37 991.33,1201.14 992.19,1200.92 993.04,1200.71 993.90,1200.50 994.76,1200.29 995.62,1200.09 996.48,1199.89 997.34,1199.70 998.20,1199.52 999.06,1199.33 999.92,1199.16 1000.78,1198.99 1001.64,1198.82 1002.50,1198.66 1003.36,1198.50 1004.22,1198.35 1005.08,1198.21 1005.94,1198.07 1006.80,1197.94 1007.66,1197.81 1008.52,1197.69 1009.38,1197.58 1010.24,1197.47 1011.10,1197.37 1011.96,1197.28 1012.82,1197.19 1013.68,1197.11 1014.54,1197.03 1015.40,1196.97 1016.26,1196.90 1017.12,1196.85 1017.98,1196.80 1018.84,1196.76 1019.70,1196.73 1020.56,1196.70 1021.42,1196.68 1022.28,1196.66 1023.13,1196.66 1023.99,1196.66 1024.85,1196.66 1025.71,1196.68 1026.57,1196.70 1027.43,1196.73 1028.29,1196.76 1029.15,1196.80 1030.01,1196.85 1030.87,1196.91 1031.73,1196.97 1032.59,1197.04 1033.45,1197.11 1034.31,1197.19 1035.17,1197.28 1036.03,1197.37 1036.89,1197.48 1037.75,1197.58 1038.61,1197.70 1039.47,1197.82 1040.33,1197.94 1041.19,1198.07 1042.05,1198.21 1042.91,1198.36 1043.77,1198.51 1044.63,1198.66 1045.49,1198.82 1046.35,1198.99 1047.21,1199.16 1048.07,1199.34 1048.93,1199.52 1049.79,1199.71 1050.65,1199.90 1051.51,1200.09 1052.37,1200.30 1053.22,1200.50 1054.08,1200.71 1054.94,1200.93 1055.80,1201.15 1056.66,1201.37 1057.52,1201.60 1058.38,1201.83 1059.24,1202.06 1060.10,1202.30 1060.96,1202.54 1061.82,1202.78 1062.68,1203.03 1063.54,1203.28 1064.40,1203.53 1065.26,1203.79 1066.12,1204.05 1066.98,1204.31 1067.84,1204.57 1068.70,1204.83 1069.56,1205.10 1070.42,1205.37 1071.28,1205.64 1072.14,1205.91 1073.00,1206.18 1073.86,1206.46 1074.72,1206.73 1075.58,1207.01 1076.44,1207.29 1077.30,1207.56 1078.16,1207.84 1079.02,1208.12 1079.88,1208.40 1080.74,1208.68 1081.60,1208.96 1082.46,1209.24 1083.31,1209.51 1084.17,1209.79 1085.03,1210.07 1085.89,1210.35 1086.75,1210.62 1087.61,1210.90 1088.47,1211.17 1089.33,1211.45 1090.19,1211.72 1091.05,1211.99 1091.91,1212.26 1092.77,1212.53 1093.63,1212.80 1094.49,1213.06 1095.35,1213.32 1096.21,1213.59 1097.07,1213.85 1097.93,1214.10 1098.79,1214.36 1099.65,1214.61 1100.51,1214.87 1101.37,1215.11 1102.23,1215.36 1103.09,1215.61 1103.95,1215.85 1104.81,1216.09 1105.67,1216.33 1106.53,1216.56 1107.39,1216.79 1108.25,1217.02 1109.11,1217.25 1109.97,1217.47 1110.83,1217.69 1111.69,1217.91 1112.55,1218.13 1113.40,1218.34 1114.26,1218.55 1115.12,1218.75 1115.98,1218.96 1116.84,1219.16 1117.70,1219.35 1118.56,1219.55 1119.42,1219.74 1120.28,1219.93 1121.14,1220.11 1122.00,1220.29 1122.86,1220.47 1123.72,1220.65 1124.58,1220.82 1125.44,1220.99 1126.30,1221.16 1127.16,1221.32 1128.02,1221.48 1128.88,1221.64 1129.74,1221.79 1130.60,1221.94 1131.46,1222.09 1132.32,1222.24 1133.18,1222.38 1134.04,1222.52 1134.90,1222.66 1135.76,1222.79 1136.62,1222.92 1137.48,1223.05 1138.34,1223.17 1139.20,1223.30 1140.06,1223.42 1140.92,1223.53 1141.78,1223.65 1142.63,1223.76 1143.49,1223.87 1144.35,1223.97 1145.21,1224.08 1146.07,1224.18 1146.93,1224.28 1147.79,1224.37 1148.65,1224.47 1149.51,1224.56 1150.37,1224.65 1151.23,1224.73 1152.09,1224.82 1152.95,1224.90 1153.81,1224.98 1154.67,1225.06 1155.53,1225.13 1156.39,1225.21 1157.25,1225.28 1158.11,1225.35 1158.97,1225.41 1159.83,1225.48 1160.69,1225.54 1161.55,1225.60 1162.41,1225.66 1163.27,1225.72 1164.13,1225.78 1164.99,1225.83 1165.85,1225.89 1166.71,1225.94 1167.57,1225.99 1168.43,1226.04 1169.29,1226.08 1170.15,1226.13 1171.01,1226.17 1171.87,1226.21 1172.72,1226.25 1173.58,1226.29 1174.44,1226.33 1175.30,1226.37 1176.16,1226.41 1177.02,1226.44 1177.88,1226.47 1178.74,1226.51 1179.60,1226.54 1180.46,1226.57 1181.32,1226.60 1182.18,1226.62 1183.04,1226.65 1183.90,1226.68 1184.76,1226.70 1185.62,1226.73 1186.48,1226.75 1187.34,1226.77" fill="none" stroke="#808000" stroke-width="2.6" stroke-linejoin="round" stroke-linecap="round"/>
<line x1="586.40" y1="1227.29" x2="1187.34" y2="1227.29" stroke="#000080" stroke-width="3.0" stroke-linecap="butt"/>
<line x1="744.00" y1="1227.29" x2="782.00" y2="1227.29" stroke="#808000" stroke-width="3.0" stroke-linecap="butt"/>
<polyline points="718.35,1227.29 718.96,1227.29 719.57,1227.29 720.18,1227.29 720.80,1227.29 721.41,1227.29 722.02,1227.29 722.63,1227.29 723.24,1227.29 723.85,1227.29 724.46,1227.29 725.07,1227.29 725.69,1227.29 726.30,1227.29 726.91,1227.29 727.52,1227.29 728.13,1227.29 728.74,1227.29 729.35,1227.28 729.97,1227.28 730.58,1227.28 731.19,1227.28 731.80,1227.28 732.41,1227.28 733.02,1227.28 733.63,1227.28 734.24,1227.27 734.86,1227.27 735.47,1227.26 736.08,1227.25 736.69,1227.24 737.30,1227.23 737.91,1227.21 738.52,1227.18 739.13,1227.15 739.75,1227.10 740.36,1227.04 740.97,1226.97 741.58,1226.87 742.19,1226.76 742.80,1226.61 743.41,1226.43 744.03,1226.20 744.64,1225.93 745.25,1225.61 745.86,1225.22 746.47,1224.76 747.08,1224.22 747.69,1223.60 748.30,1222.88 748.92,1222.05 749.53,1221.12 750.14,1220.08 750.75,1218.92 751.36,1217.64 751.97,1216.25 752.58,1214.76 753.20,1213.16 753.81,1211.48 754.42,1209.73 755.03,1207.93 755.64,1206.11 756.25,1204.28 756.86,1202.47 757.47,1200.72 758.09,1199.06 758.70,1197.51 759.31,1196.11 759.92,1194.88 760.53,1193.85 761.14,1193.04 761.75,1192.47 762.37,1192.15 762.98,1192.09 763.59,1192.29 764.20,1192.74 764.81,1193.43 765.42,1194.36 766.03,1195.49 766.64,1196.81 767.26,1198.29 767.87,1199.90 768.48,1201.62 769.09,1203.40 769.70,1205.22 770.31,1207.05 770.92,1208.87 771.53,1210.64 772.15,1212.36 772.76,1214.00 773.37,1215.54 773.98,1216.98 774.59,1218.31 775.20,1219.53 775.81,1220.63 776.43,1221.61 777.04,1222.49 777.65,1223.26 778.26,1223.93 778.87,1224.51 779.48,1225.01 780.09,1225.43 780.70,1225.78 781.32,1226.08 781.93,1226.32 782.54,1226.53 783.15,1226.69 783.76,1226.82 784.37,1226.93 784.98,1227.01 785.60,1227.07 786.21,1227.13 786.82,1227.17 787.43,1227.20 788.04,1227.22 788.65,1227.24 789.26,1227.25 789.87,1227.26 790.49,1227.27 791.10,1227.27 791.71,1227.28 792.32,1227.28 792.93,1227.28 793.54,1227.28 794.15,1227.28 794.77,1227.28 795.38,1227.28 795.99,1227.28 796.60,1227.29 797.21,1227.29 797.82,1227.29 798.43,1227.29 799.04,1227.29 799.66,1227.29 800.27,1227.29 800.88,1227.29 801.49,1227.29 802.10,1227.29 802.71,1227.29 803.32,1227.29 803.93,1227.29 804.55,1227.29 805.16,1227.29 805.77,1227.29 806.38,1227.29 806.99,1227.29 807.60,1227.29 808.21,1227.29 808.83,1227.29 809.44,1227.29 810.05,1227.29 810.66,1227.29 811.27,1227.29 811.88,1227.29 812.49,1227.29 813.10,1227.29 813.72,1227.29 814.33,1227.29 814.94,1227.29 815.55,1227.29" fill="none" stroke="#000080" stroke-width="2.6" stroke-linejoin="round" stroke-linecap="round"/>
<polyline points="586.30,1107.44 587.00,1136.53 589.00,1130.74 591.30,1131.46 594.00,1120.19 596.30,1111.15 599.00,1097.01 601.20,1088.12 604.00,1080.57 606.10,1074.89 609.00,1061.92 611.00,1051.99 613.00,1034.42 614.50,1021.79 616.00,1009.71 617.65,986.24 619.30,962.95 620.90,943.42 622.50,923.84 624.15,903.13 625.80,880.92 627.45,862.79 629.10,845.60 632.00,824.82 634.00,816.51 636.00,804.10 638.30,794.61 640.00,799.79 642.20,808.65 645.00,808.93 647.20,812.24 649.00,829.19 650.55,842.70 652.10,854.83 655.00,865.24 657.00,878.19 658.50,888.50 660.00,899.10 662.00,918.36 663.50,931.00 665.00,945.58 666.75,960.93 668.50,977.87 670.25,988.10 672.00,999.50 673.55,1007.78 675.10,1017.13 678.00,1027.26 679.85,1031.29 681.70,1035.39 684.00,1030.36 686.00,1040.94 688.20,1046.18 691.00,1059.01 692.90,1063.56 694.80,1068.18 697.00,1081.34 698.50,1088.82 700.00,1096.61 701.75,1102.46 703.50,1107.60 706.00,1114.40 708.70,1120.55 710.20,1116.65 711.70,1114.41 713.45,1115.23 715.20,1115.88 716.90,1122.22 718.60,1130.91 720.17,1131.51 721.73,1132.19 723.30,1130.48 725.60,1142.49 727.57,1143.60 729.53,1142.13 731.50,1142.68 733.25,1139.07 735.00,1136.26 736.75,1144.96 738.50,1151.65 740.20,1173.68 742.25,1173.12 744.30,1172.77 745.87,1173.37 747.43,1175.28 749.00,1175.33 750.70,1163.78 752.40,1151.76 754.15,1147.61 755.90,1141.76 758.30,1138.94 760.60,1145.74 762.90,1145.74 764.47,1146.68 766.03,1148.05 767.60,1148.57 769.17,1151.47 770.73,1153.51 772.30,1157.32 774.60,1168.75 776.17,1173.93 777.73,1178.82 779.30,1182.95 781.05,1178.29 782.80,1175.07 785.10,1185.59 788.00,1164.18 789.70,1173.96 792.10,1171.64 793.63,1175.47 795.17,1181.03 796.70,1185.37 799.10,1175.27 800.63,1176.11 802.17,1176.28 803.70,1177.70 805.27,1181.91 806.83,1183.31 808.40,1187.34 810.15,1191.12 811.90,1195.76 813.65,1200.35 815.40,1202.98 817.15,1201.45 818.90,1200.51 821.80,1219.59 823.85,1211.02 825.90,1201.42 827.65,1188.46 829.40,1176.53 831.70,1161.04 833.45,1155.32 835.20,1148.64 836.77,1151.70 838.33,1153.68 839.90,1156.38 842.20,1165.17 843.95,1176.13 845.70,1187.76 847.75,1198.36 849.80,1210.65 851.80,1207.18 853.80,1204.95 855.37,1206.43 856.93,1204.50 858.50,1205.49 860.25,1198.62 862.00,1194.13 863.75,1189.00 865.50,1185.56 867.07,1182.03 868.63,1178.98 870.20,1176.12 871.95,1172.24 873.70,1167.09 875.45,1171.11 877.20,1174.29 878.90,1168.37 880.60,1164.57 882.57,1155.56 884.53,1147.46 886.50,1137.71 888.02,1129.63 889.55,1120.73 891.08,1112.51 892.60,1102.45 894.20,1091.34 895.80,1079.97 897.65,1049.84 899.50,1021.51 902.20,995.47 904.10,981.35 906.00,968.30 907.75,958.46 909.50,947.93 911.25,944.95 913.00,942.99 915.50,938.47 917.35,936.86 919.20,934.37 921.00,941.29 922.80,947.83 924.43,955.03 926.07,960.29 927.70,966.25 929.20,970.12 930.70,973.02 932.20,977.31 933.70,980.17 935.23,988.44 936.75,998.00 938.27,1006.41 939.80,1015.00 941.62,1024.37 943.45,1035.25 945.27,1044.81 947.10,1056.29 948.70,1061.01 950.30,1064.62 951.90,1070.77 953.53,1077.37 955.17,1085.29 956.80,1094.64 958.43,1097.02 960.07,1100.71 961.70,1104.18 963.35,1101.03 965.00,1100.49 966.95,1100.30 968.90,1101.36 970.53,1106.82 972.17,1113.25 973.80,1118.89 975.40,1122.84 977.00,1127.34 978.60,1132.60 980.23,1138.49 981.87,1143.49 983.50,1149.31 985.33,1152.35 987.15,1154.05 988.97,1156.43 990.80,1158.26 992.40,1160.40 994.00,1161.75 996.05,1163.82 998.10,1166.62 1001.00,1159.93 1003.15,1161.10 1005.30,1162.18 1007.15,1165.77 1009.00,1170.71 1010.80,1172.92 1012.60,1176.63 1014.80,1176.12 1017.00,1174.61 1018.77,1174.49 1020.53,1175.29 1022.30,1177.31 1024.15,1177.37 1026.00,1179.26 1027.80,1182.06 1029.60,1184.07 1031.80,1191.33 1034.00,1199.10 1036.05,1210.81 1038.10,1223.34 1041.00,1209.93 1042.60,1205.21 1044.20,1199.07 1046.10,1195.21 1048.00,1189.07 1049.75,1187.57 1051.50,1185.43 1053.25,1190.56 1055.00,1194.68 1056.85,1198.30 1058.70,1203.49 1061.00,1214.19 1063.60,1223.62 1065.30,1213.99 1067.00,1205.60 1068.95,1199.19 1070.90,1193.22 1072.45,1188.44 1074.00,1184.86 1076.90,1181.85 1078.45,1186.15 1080.00,1190.83 1081.50,1194.87 1083.00,1197.99 1085.00,1200.02 1087.00,1203.52 1088.65,1204.98 1090.30,1205.82 1092.15,1210.06 1094.00,1213.10 1095.80,1216.26 1097.60,1219.74 1099.80,1221.23 1102.00,1224.29 1103.77,1225.19 1105.53,1225.61 1107.30,1225.13 1109.15,1224.43 1111.00,1223.86 1112.80,1225.98 1114.60,1227.91 1116.80,1224.68 1119.00,1222.04 1120.77,1220.01 1122.53,1218.70 1124.30,1218.37 1125.87,1216.98 1127.43,1214.09 1129.00,1211.82 1130.67,1210.87 1132.33,1210.24 1134.00,1210.11 1136.00,1210.66 1138.00,1212.92 1139.65,1210.66 1141.30,1210.33 1143.15,1212.39 1145.00,1213.82 1146.60,1215.60 1148.20,1216.46 1149.80,1217.56 1151.40,1221.57 1153.00,1225.06 1155.00,1230.60 1157.00,1235.00 1159.00,1233.93 1161.00,1232.56 1162.50,1234.05 1164.00,1235.09 1165.50,1234.10 1167.00,1233.60 1168.50,1231.38 1170.00,1230.03 1171.73,1230.82 1173.47,1230.99 1175.20,1230.39 1178.00,1224.39 1179.65,1221.09 1181.30,1214.86 1184.00,1209.77 1186.00,1200.66 1187.40,1198.13 1188.50,1202.00" fill="none" stroke="#000" stroke-width="2.8" stroke-linejoin="round" stroke-linecap="round"/>
<polyline points="585.80,1130.70 586.55,1129.51 587.57,1128.00 588.79,1126.14 590.14,1123.92 591.57,1121.31 593.00,1118.30 594.50,1114.99 596.13,1111.41 597.84,1107.46 599.56,1102.99 601.23,1097.88 602.80,1092.00 604.26,1085.49 605.65,1078.49 606.99,1070.84 608.32,1062.41 609.65,1053.08 611.00,1042.70 612.40,1030.80 613.83,1017.40 615.26,1003.08 616.66,988.45 618.02,974.09 619.30,960.60 620.50,947.73 621.66,934.95 622.76,922.45 623.81,910.40 624.82,898.99 625.80,888.40 626.72,878.63 627.58,869.54 628.40,861.08 629.20,853.22 629.99,845.91 630.80,839.10 631.63,832.80 632.48,827.05 633.32,821.84 634.14,817.20 634.94,813.11 635.70,809.60 636.40,806.74 637.06,804.53 637.69,802.89 638.31,801.72 638.94,800.92 639.60,800.40 640.27,800.01 640.92,799.81 641.58,799.98 642.28,800.70 643.05,802.18 643.90,804.60 644.87,808.03 645.93,812.33 647.06,817.38 648.22,823.06 649.38,829.24 650.50,835.80 651.57,842.78 652.61,850.29 653.65,858.29 654.71,866.78 655.82,875.72 657.00,885.10 658.29,895.41 659.67,906.76 661.09,918.57 662.52,930.24 663.91,941.18 665.20,950.80 666.39,959.00 667.52,966.25 668.60,972.76 669.66,978.77 670.72,984.51 671.80,990.20 672.86,995.65 673.88,1000.64 674.90,1005.36 675.96,1009.98 677.11,1014.70 678.40,1019.70 679.81,1024.95 681.30,1030.30 682.89,1035.74 684.56,1041.27 686.33,1046.89 688.20,1052.60 690.20,1058.51 692.35,1064.64 694.59,1070.86 696.88,1077.03 699.17,1083.02 701.40,1088.70 703.59,1094.09 705.77,1099.30 707.96,1104.32 710.14,1109.17 712.32,1113.83 714.50,1118.30 716.72,1122.60 718.99,1126.73 721.25,1130.67 723.47,1134.41 725.60,1137.93 727.60,1141.20 729.45,1144.23 731.18,1147.04 732.82,1149.62 734.40,1151.97 735.95,1154.10 737.50,1156.00 739.06,1157.73 740.60,1159.30 742.11,1160.64 743.57,1161.68 744.97,1162.36 746.30,1162.60 747.54,1162.35 748.70,1161.65 749.80,1160.59 750.86,1159.24 751.88,1157.68 752.90,1156.00 753.91,1153.96 754.91,1151.45 755.89,1148.74 756.82,1146.08 757.69,1143.75 758.50,1142.00 759.18,1140.79 759.74,1139.89 760.24,1139.31 760.75,1139.06 761.35,1139.15 762.10,1139.60 763.01,1140.33 764.02,1141.32 765.11,1142.66 766.27,1144.41 767.47,1146.67 768.70,1149.50 769.96,1153.41 771.26,1158.44 772.60,1163.97 773.99,1169.38 775.42,1174.06 776.90,1177.40 778.40,1179.19 779.92,1179.88 781.49,1179.84 783.12,1179.43 784.85,1179.03 786.70,1179.00 788.63,1179.26 790.61,1179.50 792.68,1179.74 794.89,1180.01 797.28,1180.32 799.90,1180.70 802.81,1181.14 805.99,1181.62 809.34,1182.15 812.79,1182.72 816.24,1183.34 819.60,1184.00 822.92,1184.74 826.29,1185.57 829.66,1186.45 832.98,1187.33 836.21,1188.16 839.30,1188.90 842.30,1189.61 845.25,1190.32 848.11,1190.99 850.84,1191.57 853.38,1191.99 855.70,1192.20 857.77,1192.17 859.61,1191.94 861.28,1191.56 862.80,1191.07 864.23,1190.53 865.60,1190.00 866.87,1189.56 867.99,1189.18 869.01,1188.75 869.99,1188.16 870.97,1187.28 872.00,1186.00 873.06,1184.40 874.10,1182.57 875.15,1180.47 876.22,1178.01 877.33,1175.15 878.50,1171.80 879.76,1168.04 881.09,1163.92 882.47,1159.39 883.85,1154.39 885.21,1148.85 886.50,1142.70 887.72,1136.02 888.91,1128.87 890.06,1121.18 891.20,1112.89 892.34,1103.91 893.50,1094.20 894.67,1083.33 895.85,1071.29 897.03,1058.56 898.20,1045.67 899.36,1033.11 900.50,1021.40 901.63,1010.16 902.76,998.92 903.88,988.02 904.97,977.79 906.02,968.57 907.00,960.70 907.90,954.32 908.71,949.18 909.47,945.06 910.24,941.71 911.03,938.90 911.90,936.40 912.85,934.30 913.85,932.82 914.88,931.88 915.93,931.40 916.98,931.34 918.00,931.60 919.00,932.18 920.00,933.13 921.00,934.48 922.00,936.27 923.00,938.53 924.00,941.30 925.00,944.54 925.98,948.22 926.97,952.37 927.97,957.03 929.01,962.23 930.10,968.00 931.25,974.65 932.44,982.20 933.68,990.29 934.92,998.56 936.17,1006.61 937.40,1014.10 938.62,1021.13 939.84,1028.02 941.06,1034.71 942.27,1041.13 943.49,1047.22 944.70,1052.90 945.85,1058.02 946.92,1062.61 947.99,1066.86 949.13,1070.97 950.41,1075.15 951.90,1079.60 953.62,1084.37 955.51,1089.30 957.54,1094.30 959.68,1099.27 961.88,1104.10 964.10,1108.70 966.35,1113.03 968.67,1117.16 971.05,1121.15 973.50,1125.08 976.01,1129.01 978.60,1133.00 981.26,1137.11 983.99,1141.28 986.79,1145.46 989.66,1149.56 992.60,1153.53 995.60,1157.30 998.69,1160.89 1001.89,1164.36 1005.14,1167.69 1008.44,1170.87 1011.73,1173.88 1015.00,1176.70 1018.19,1179.30 1021.32,1181.67 1024.45,1183.88 1027.65,1185.96 1030.98,1187.99 1034.50,1190.00 1038.20,1191.97 1042.03,1193.84 1045.99,1195.65 1050.09,1197.43 1054.32,1199.20 1058.70,1201.00 1063.28,1202.86 1068.07,1204.75 1072.99,1206.64 1077.99,1208.49 1082.98,1210.25 1087.90,1211.90 1092.67,1213.43 1097.34,1214.88 1102.00,1216.25 1106.76,1217.54 1111.73,1218.76 1117.00,1219.90 1122.66,1220.99 1128.64,1222.01 1134.82,1222.97 1141.09,1223.83 1147.32,1224.58 1153.40,1225.20 1159.74,1225.66 1166.53,1225.98 1173.28,1226.18 1179.52,1226.31 1184.78,1226.40 1188.60,1226.50" fill="none" stroke="#FF0000" stroke-width="3.0" stroke-linejoin="round" stroke-linecap="round"/>
<path d="M573.0,1305.7 V733.8 M562.0,733.8 H1289.2 V1305.7 H562.0" fill="none" stroke="#000" stroke-width="2.3" stroke-linejoin="round"/>
<line x1="561.50" y1="1305.70" x2="573.00" y2="1305.70" stroke="#000" stroke-width="2.3" stroke-linecap="butt"/>
<line x1="567.00" y1="1273.93" x2="573.00" y2="1273.93" stroke="#000" stroke-width="2.3" stroke-linecap="butt"/>
<line x1="561.50" y1="1242.15" x2="573.00" y2="1242.15" stroke="#000" stroke-width="2.3" stroke-linecap="butt"/>
<line x1="567.00" y1="1210.38" x2="573.00" y2="1210.38" stroke="#000" stroke-width="2.3" stroke-linecap="butt"/>
<line x1="561.50" y1="1178.61" x2="573.00" y2="1178.61" stroke="#000" stroke-width="2.3" stroke-linecap="butt"/>
<line x1="567.00" y1="1146.84" x2="573.00" y2="1146.84" stroke="#000" stroke-width="2.3" stroke-linecap="butt"/>
<line x1="561.50" y1="1115.07" x2="573.00" y2="1115.07" stroke="#000" stroke-width="2.3" stroke-linecap="butt"/>
<line x1="567.00" y1="1083.29" x2="573.00" y2="1083.29" stroke="#000" stroke-width="2.3" stroke-linecap="butt"/>
<line x1="561.50" y1="1051.52" x2="573.00" y2="1051.52" stroke="#000" stroke-width="2.3" stroke-linecap="butt"/>
<line x1="567.00" y1="1019.75" x2="573.00" y2="1019.75" stroke="#000" stroke-width="2.3" stroke-linecap="butt"/>
<line x1="561.50" y1="987.98" x2="573.00" y2="987.98" stroke="#000" stroke-width="2.3" stroke-linecap="butt"/>
<line x1="567.00" y1="956.20" x2="573.00" y2="956.20" stroke="#000" stroke-width="2.3" stroke-linecap="butt"/>
<line x1="561.50" y1="924.43" x2="573.00" y2="924.43" stroke="#000" stroke-width="2.3" stroke-linecap="butt"/>
<line x1="567.00" y1="892.66" x2="573.00" y2="892.66" stroke="#000" stroke-width="2.3" stroke-linecap="butt"/>
<line x1="561.50" y1="860.88" x2="573.00" y2="860.88" stroke="#000" stroke-width="2.3" stroke-linecap="butt"/>
<line x1="567.00" y1="829.11" x2="573.00" y2="829.11" stroke="#000" stroke-width="2.3" stroke-linecap="butt"/>
<line x1="561.50" y1="797.34" x2="573.00" y2="797.34" stroke="#000" stroke-width="2.3" stroke-linecap="butt"/>
<line x1="567.00" y1="765.57" x2="573.00" y2="765.57" stroke="#000" stroke-width="2.3" stroke-linecap="butt"/>
<line x1="561.50" y1="733.79" x2="573.00" y2="733.79" stroke="#000" stroke-width="2.3" stroke-linecap="butt"/>
<line x1="609.00" y1="1305.70" x2="609.00" y2="1317.20" stroke="#000" stroke-width="2.3" stroke-linecap="butt"/>
<line x1="657.60" y1="1305.70" x2="657.60" y2="1311.70" stroke="#000" stroke-width="2.3" stroke-linecap="butt"/>
<line x1="706.20" y1="1305.70" x2="706.20" y2="1317.20" stroke="#000" stroke-width="2.3" stroke-linecap="butt"/>
<line x1="754.80" y1="1305.70" x2="754.80" y2="1311.70" stroke="#000" stroke-width="2.3" stroke-linecap="butt"/>
<line x1="803.40" y1="1305.70" x2="803.40" y2="1317.20" stroke="#000" stroke-width="2.3" stroke-linecap="butt"/>
<line x1="852.00" y1="1305.70" x2="852.00" y2="1311.70" stroke="#000" stroke-width="2.3" stroke-linecap="butt"/>
<line x1="900.60" y1="1305.70" x2="900.60" y2="1317.20" stroke="#000" stroke-width="2.3" stroke-linecap="butt"/>
<line x1="949.20" y1="1305.70" x2="949.20" y2="1311.70" stroke="#000" stroke-width="2.3" stroke-linecap="butt"/>
<line x1="997.80" y1="1305.70" x2="997.80" y2="1317.20" stroke="#000" stroke-width="2.3" stroke-linecap="butt"/>
<line x1="1046.40" y1="1305.70" x2="1046.40" y2="1311.70" stroke="#000" stroke-width="2.3" stroke-linecap="butt"/>
<line x1="1095.00" y1="1305.70" x2="1095.00" y2="1317.20" stroke="#000" stroke-width="2.3" stroke-linecap="butt"/>
<line x1="1143.60" y1="1305.70" x2="1143.60" y2="1311.70" stroke="#000" stroke-width="2.3" stroke-linecap="butt"/>
<line x1="1192.20" y1="1305.70" x2="1192.20" y2="1317.20" stroke="#000" stroke-width="2.3" stroke-linecap="butt"/>
<line x1="1240.80" y1="1305.70" x2="1240.80" y2="1311.70" stroke="#000" stroke-width="2.3" stroke-linecap="butt"/>
<line x1="1289.40" y1="1305.70" x2="1289.40" y2="1317.20" stroke="#000" stroke-width="2.3" stroke-linecap="butt"/>
<text x="553.6" y="1312.70" text-anchor="end" class="sa" font-size="27.0">56000</text>
<text x="553.6" y="1249.15" text-anchor="end" class="sa" font-size="27.0">56500</text>
<text x="553.6" y="1185.61" text-anchor="end" class="sa" font-size="27.0">57000</text>
<text x="553.6" y="1122.07" text-anchor="end" class="sa" font-size="27.0">57500</text>
<text x="553.6" y="1058.52" text-anchor="end" class="sa" font-size="27.0">58000</text>
<text x="553.6" y="994.98" text-anchor="end" class="sa" font-size="27.0">58500</text>
<text x="553.6" y="931.43" text-anchor="end" class="sa" font-size="27.0">59000</text>
<text x="553.6" y="867.88" text-anchor="end" class="sa" font-size="27.0">59500</text>
<text x="553.6" y="804.34" text-anchor="end" class="sa" font-size="27.0">60000</text>
<text x="553.6" y="740.79" text-anchor="end" class="sa" font-size="27.0">60500</text>
<text x="609.00" y="1346.3" text-anchor="middle" class="sa" font-size="27.0">512</text>
<text x="706.20" y="1346.3" text-anchor="middle" class="sa" font-size="27.0">516</text>
<text x="803.40" y="1346.3" text-anchor="middle" class="sa" font-size="27.0">520</text>
<text x="900.60" y="1346.3" text-anchor="middle" class="sa" font-size="27.0">524</text>
<text x="997.80" y="1346.3" text-anchor="middle" class="sa" font-size="27.0">528</text>
<text x="1095.00" y="1346.3" text-anchor="middle" class="sa" font-size="27.0">532</text>
<text x="1192.20" y="1346.3" text-anchor="middle" class="sa" font-size="27.0">536</text>
<text x="1289.40" y="1346.3" text-anchor="middle" class="sa" font-size="27.0">540</text>
<text x="741.82" y="1393.10" font-family='"Liberation Serif", serif' font-weight="bold" font-size="31.20" textLength="266.65" lengthAdjust="spacingAndGlyphs" fill="#000">Binding Energy (eV)</text>
<text transform="translate(444.80,1116.03) rotate(-90)" x="0" y="0" font-family='"Liberation Serif", serif' font-weight="bold" font-size="32.20" textLength="181.31" lengthAdjust="spacingAndGlyphs">Intensity (a.u)</text>
<text x="675.11" y="861.60" font-family='"Liberation Serif", serif' font-weight="bold" font-size="26.59" textLength="90.48" lengthAdjust="spacingAndGlyphs" fill="#000">513.1 eV</text>
<text x="719.01" y="1014.40" font-family='"Liberation Serif", serif' font-weight="bold" font-size="26.44" textLength="91.09" lengthAdjust="spacingAndGlyphs" fill="#000">514.6 eV</text>
<text x="760.41" y="1100.00" font-family='"Liberation Serif", serif' font-weight="bold" font-size="25.38" textLength="90.48" lengthAdjust="spacingAndGlyphs" fill="#000">518.8 eV</text>
<text x="953.41" y="918.90" font-family='"Liberation Serif", serif' font-weight="bold" font-size="24.92" textLength="91.09" lengthAdjust="spacingAndGlyphs" fill="#000">524.6 eV</text>
<text x="978.92" y="1056.60" font-family='"Liberation Serif", serif' font-weight="bold" font-size="23.87" textLength="71.58" lengthAdjust="spacingAndGlyphs" fill="#000">526 eV</text>
<text x="1046.81" y="1163.30" font-family='"Liberation Serif", serif' font-weight="bold" font-size="23.72" textLength="91.09" lengthAdjust="spacingAndGlyphs" fill="#000">529.1 eV</text>
<line x1="679.20" y1="869.40" x2="649.55" y2="898.15" stroke="#000" stroke-width="2.7" stroke-linecap="butt"/>
<polygon points="639.50,907.90 647.51,893.17 654.47,900.35" fill="#000"/>
<line x1="714.20" y1="1029.00" x2="686.87" y2="1075.72" stroke="#000" stroke-width="2.7" stroke-linecap="butt"/>
<polygon points="679.80,1087.80 683.56,1071.46 692.20,1076.51" fill="#000"/>
<line x1="755.60" y1="1105.60" x2="757.34" y2="1172.60" stroke="#000" stroke-width="2.7" stroke-linecap="butt"/>
<polygon points="757.70,1186.60 752.29,1170.73 762.28,1170.48" fill="#000"/>
<line x1="970.90" y1="930.30" x2="922.27" y2="1000.59" stroke="#000" stroke-width="2.7" stroke-linecap="butt"/>
<polygon points="914.30,1012.10 919.29,996.10 927.52,1001.79" fill="#000"/>
<line x1="984.70" y1="1066.30" x2="958.71" y2="1112.97" stroke="#000" stroke-width="2.7" stroke-linecap="butt"/>
<polygon points="951.90,1125.20 955.32,1108.79 964.05,1113.65" fill="#000"/>
<line x1="1067.20" y1="1171.80" x2="1054.90" y2="1188.52" stroke="#000" stroke-width="2.7" stroke-linecap="butt"/>
<polygon points="1046.60,1199.80 1052.05,1183.95 1060.11,1189.88" fill="#000"/>
<rect x="839.1" y="748.5" width="108" height="75.8" fill="#FF0000"/>
<text transform="translate(861.16,803.90) scale(1.1379,1)" font-family='"Liberation Serif", serif' font-weight="bold" font-size="46.69" stroke="#000" stroke-width="1.6">(</text>
<text transform="translate(880.16,803.82) scale(0.8042,1)" font-family='"Liberation Serif", serif' font-weight="bold" font-size="47.62" stroke="#000" stroke-width="1.0">C</text>
<text transform="translate(907.11,803.90) scale(1.1290,1)" font-family='"Liberation Serif", serif' font-weight="bold" font-size="46.69" stroke="#000" stroke-width="1.6">)</text>
<text x="634.36" y="771.50" font-family='"Liberation Sans", sans-serif' font-weight="bold" font-size="29.37" textLength="55.55" lengthAdjust="spacingAndGlyphs" fill="#000">V2p</text>
<text x="1066.02" y="856.10" font-family='"Liberation Sans", sans-serif' font-weight="bold" font-size="28.80" textLength="57.50" lengthAdjust="spacingAndGlyphs" fill="#000">O1s</text>
</svg>
</body></html>
